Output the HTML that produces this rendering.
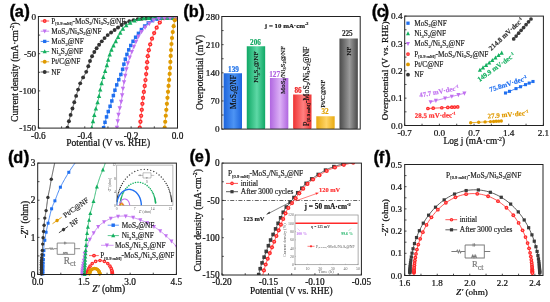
<!DOCTYPE html>
<html><head><meta charset="utf-8"><style>
html,body{margin:0;padding:0;background:#fff;}
svg{display:block;will-change:transform;}
</style></head><body>
<svg width="550" height="302" viewBox="0 0 550 302">
<defs><linearGradient id="g_blue" x1="0" x2="1" y1="0" y2="0"><stop offset="0" stop-color="#1c64dc"/><stop offset="0.55" stop-color="#4d94f4"/><stop offset="1" stop-color="#1c64dc"/></linearGradient><linearGradient id="g_green" x1="0" x2="1" y1="0" y2="0"><stop offset="0" stop-color="#0fa865"/><stop offset="0.55" stop-color="#5ed8a6"/><stop offset="1" stop-color="#0fa865"/></linearGradient><linearGradient id="g_purple" x1="0" x2="1" y1="0" y2="0"><stop offset="0" stop-color="#b066e0"/><stop offset="0.55" stop-color="#dcb0f6"/><stop offset="1" stop-color="#b066e0"/></linearGradient><linearGradient id="g_red" x1="0" x2="1" y1="0" y2="0"><stop offset="0" stop-color="#ee3434"/><stop offset="0.55" stop-color="#ff8080"/><stop offset="1" stop-color="#ee3434"/></linearGradient><linearGradient id="g_orange" x1="0" x2="1" y1="0" y2="0"><stop offset="0" stop-color="#e8aa10"/><stop offset="0.55" stop-color="#ffd466"/><stop offset="1" stop-color="#e8aa10"/></linearGradient><linearGradient id="g_gray" x1="0" x2="1" y1="0" y2="0"><stop offset="0" stop-color="#4a4a4a"/><stop offset="0.55" stop-color="#9a9a9a"/><stop offset="1" stop-color="#4a4a4a"/></linearGradient></defs>
<rect width="550" height="302" fill="#fff"/>
<clipPath id="ca"><rect x="38.4" y="16.5" width="139.1" height="111.6"/></clipPath>
<g clip-path="url(#ca)">
<path d="M177.00,17.60 L176.16,17.61 L175.07,17.63 L173.78,17.65 L172.33,17.68 L170.77,17.70 L169.12,17.73 L167.45,17.76 L165.78,17.79 L164.16,17.82 L162.62,17.85 L161.23,17.87 L160.00,17.90 L158.92,17.92 L157.93,17.95 L157.01,17.97 L156.15,17.99 L155.34,18.00 L154.56,18.02 L153.81,18.05 L153.07,18.07 L152.34,18.10 L151.59,18.13 L150.81,18.16 L150.00,18.20 L149.16,18.24 L148.30,18.29 L147.43,18.33 L146.56,18.38 L145.68,18.43 L144.81,18.49 L143.95,18.55 L143.11,18.61 L142.29,18.67 L141.49,18.74 L140.73,18.82 L140.00,18.90 L139.31,18.99 L138.65,19.07 L138.02,19.17 L137.41,19.26 L136.83,19.36 L136.26,19.47 L135.71,19.58 L135.16,19.69 L134.62,19.81 L134.09,19.94 L133.55,20.07 L133.00,20.20 L132.45,20.34 L131.92,20.48 L131.38,20.62 L130.86,20.77 L130.34,20.92 L129.82,21.08 L129.31,21.25 L128.81,21.42 L128.30,21.60 L127.80,21.79 L127.30,21.99 L126.80,22.20 L126.30,22.42 L125.81,22.65 L125.33,22.89 L124.84,23.14 L124.37,23.39 L123.89,23.66 L123.41,23.93 L122.93,24.21 L122.45,24.49 L121.97,24.79 L121.49,25.09 L121.00,25.40 L120.50,25.73 L119.97,26.08 L119.43,26.45 L118.89,26.84 L118.34,27.24 L117.80,27.63 L117.27,28.02 L116.76,28.40 L116.27,28.77 L115.81,29.11 L115.38,29.42 L115.00,29.70 L114.68,29.93 L114.42,30.12 L114.20,30.27 L114.03,30.39 L113.88,30.49 L113.74,30.59 L113.59,30.70 L113.44,30.81 L113.25,30.95 L113.03,31.12 L112.75,31.33 L112.40,31.60 L111.99,31.91 L111.53,32.25 L111.03,32.61 L110.49,33.00 L109.93,33.41 L109.34,33.84 L108.75,34.29 L108.14,34.76 L107.54,35.25 L106.94,35.75 L106.36,36.27 L105.80,36.80 L105.25,37.36 L104.69,37.95 L104.12,38.58 L103.55,39.23 L102.98,39.89 L102.41,40.57 L101.85,41.25 L101.31,41.93 L100.77,42.60 L100.26,43.26 L99.77,43.89 L99.30,44.50 L98.86,45.08 L98.45,45.63 L98.05,46.16 L97.68,46.67 L97.32,47.18 L96.97,47.69 L96.63,48.20 L96.29,48.71 L95.95,49.25 L95.61,49.80 L95.26,50.39 L94.90,51.00 L94.53,51.64 L94.16,52.29 L93.79,52.95 L93.42,53.62 L93.05,54.31 L92.68,55.02 L92.31,55.74 L91.94,56.49 L91.58,57.26 L91.22,58.05 L90.86,58.86 L90.50,59.70 L90.15,60.58 L89.82,61.51 L89.49,62.47 L89.16,63.47 L88.84,64.48 L88.52,65.51 L88.19,66.55 L87.86,67.58 L87.52,68.60 L87.16,69.60 L86.79,70.57 L86.40,71.50 L85.99,72.39 L85.55,73.25 L85.10,74.07 L84.63,74.88 L84.15,75.68 L83.67,76.47 L83.18,77.27 L82.70,78.07 L82.23,78.90 L81.77,79.76 L81.32,80.66 L80.90,81.60 L80.49,82.59 L80.09,83.63 L79.70,84.70 L79.31,85.80 L78.94,86.92 L78.57,88.05 L78.21,89.19 L77.85,90.33 L77.50,91.45 L77.16,92.56 L76.83,93.65 L76.50,94.70 L76.18,95.72 L75.88,96.72 L75.58,97.70 L75.30,98.67 L75.02,99.63 L74.75,100.58 L74.48,101.53 L74.21,102.49 L73.94,103.44 L73.67,104.41 L73.39,105.40 L73.10,106.40 L72.80,107.43 L72.50,108.48 L72.18,109.56 L71.86,110.65 L71.54,111.74 L71.22,112.84 L70.91,113.92 L70.60,115.00 L70.31,116.05 L70.02,117.07 L69.75,118.06 L69.50,119.00 L69.26,119.93 L69.03,120.87 L68.80,121.82 L68.58,122.75 L68.37,123.66 L68.17,124.54 L67.99,125.37 L67.82,126.15 L67.66,126.87 L67.52,127.50 L67.40,128.05 L67.30,128.50" fill="none" stroke="#333333" stroke-width="0.8"/>
<circle cx="67.48" cy="127.72" r="1.95" fill="#333333"/>
<circle cx="68.93" cy="121.28" r="1.95" fill="#333333"/>
<circle cx="70.63" cy="114.91" r="1.95" fill="#333333"/>
<circle cx="72.47" cy="108.57" r="1.95" fill="#333333"/>
<circle cx="74.29" cy="102.22" r="1.95" fill="#333333"/>
<circle cx="76.13" cy="95.89" r="1.95" fill="#333333"/>
<circle cx="78.08" cy="89.58" r="1.95" fill="#333333"/>
<circle cx="80.21" cy="83.33" r="1.95" fill="#333333"/>
<circle cx="83.10" cy="77.41" r="1.95" fill="#333333"/>
<circle cx="86.24" cy="71.84" r="1.95" fill="#333333"/>
<circle cx="88.29" cy="66.23" r="1.95" fill="#333333"/>
<circle cx="90.01" cy="60.96" r="1.95" fill="#333333"/>
<circle cx="92.06" cy="56.25" r="1.95" fill="#333333"/>
<circle cx="94.31" cy="52.03" r="1.95" fill="#333333"/>
<circle cx="96.61" cy="48.22" r="1.95" fill="#333333"/>
<circle cx="99.12" cy="44.73" r="1.95" fill="#333333"/>
<circle cx="101.78" cy="41.35" r="1.95" fill="#333333"/>
<circle cx="104.57" cy="38.08" r="1.95" fill="#333333"/>
<circle cx="107.69" cy="35.12" r="1.95" fill="#333333"/>
<circle cx="111.12" cy="32.54" r="1.95" fill="#333333"/>
<circle cx="114.59" cy="29.99" r="1.95" fill="#333333"/>
<circle cx="118.05" cy="27.45" r="1.95" fill="#333333"/>
<circle cx="121.60" cy="25.02" r="1.95" fill="#333333"/>
<circle cx="125.33" cy="22.89" r="1.95" fill="#333333"/>
<circle cx="129.30" cy="21.25" r="1.95" fill="#333333"/>
<circle cx="133.44" cy="20.09" r="1.95" fill="#333333"/>
<circle cx="137.65" cy="19.22" r="1.95" fill="#333333"/>
<circle cx="141.92" cy="18.71" r="1.95" fill="#333333"/>
<circle cx="146.21" cy="18.40" r="1.95" fill="#333333"/>
<circle cx="150.51" cy="18.18" r="1.95" fill="#333333"/>
<circle cx="154.80" cy="18.02" r="1.95" fill="#333333"/>
<circle cx="159.10" cy="17.92" r="1.95" fill="#333333"/>
<circle cx="163.40" cy="17.83" r="1.95" fill="#333333"/>
<circle cx="167.70" cy="17.76" r="1.95" fill="#333333"/>
<circle cx="172.00" cy="17.68" r="1.95" fill="#333333"/>
<circle cx="176.30" cy="17.61" r="1.95" fill="#333333"/>
<path d="M177.00,17.60 L176.56,17.61 L176.00,17.62 L175.35,17.63 L174.61,17.64 L173.82,17.65 L172.97,17.66 L172.11,17.68 L171.23,17.70 L170.36,17.72 L169.52,17.74 L168.73,17.77 L168.00,17.80 L167.32,17.83 L166.67,17.85 L166.03,17.87 L165.41,17.90 L164.79,17.92 L164.19,17.95 L163.58,17.99 L162.97,18.04 L162.35,18.10 L161.72,18.18 L161.07,18.28 L160.40,18.40 L159.70,18.54 L158.98,18.69 L158.23,18.86 L157.47,19.04 L156.70,19.24 L155.93,19.45 L155.16,19.67 L154.41,19.91 L153.67,20.16 L152.95,20.43 L152.26,20.71 L151.60,21.00 L150.98,21.30 L150.38,21.62 L149.82,21.94 L149.27,22.27 L148.73,22.62 L148.21,22.98 L147.70,23.36 L147.19,23.76 L146.68,24.19 L146.16,24.63 L145.64,25.10 L145.10,25.60 L144.55,26.13 L143.99,26.70 L143.43,27.30 L142.86,27.93 L142.30,28.58 L141.73,29.24 L141.17,29.92 L140.61,30.60 L140.07,31.29 L139.53,31.97 L139.01,32.64 L138.50,33.30 L138.00,33.95 L137.52,34.60 L137.04,35.24 L136.57,35.89 L136.11,36.54 L135.66,37.19 L135.22,37.84 L134.78,38.50 L134.35,39.16 L133.93,39.83 L133.51,40.51 L133.10,41.20 L132.69,41.90 L132.29,42.60 L131.90,43.32 L131.51,44.04 L131.14,44.77 L130.76,45.50 L130.40,46.23 L130.04,46.97 L129.69,47.71 L129.35,48.44 L129.02,49.17 L128.70,49.90 L128.39,50.63 L128.09,51.36 L127.79,52.10 L127.51,52.84 L127.23,53.58 L126.96,54.31 L126.70,55.05 L126.45,55.77 L126.20,56.50 L125.96,57.21 L125.73,57.91 L125.50,58.60 L125.28,59.28 L125.07,59.96 L124.86,60.64 L124.67,61.31 L124.48,61.98 L124.29,62.64 L124.12,63.28 L123.94,63.92 L123.78,64.54 L123.61,65.14 L123.46,65.73 L123.30,66.30 L123.16,66.81 L123.06,67.25 L122.98,67.64 L122.91,67.99 L122.85,68.32 L122.79,68.66 L122.71,69.03 L122.61,69.45 L122.47,69.93 L122.30,70.51 L122.08,71.19 L121.80,72.00 L121.45,72.95 L121.04,74.03 L120.58,75.21 L120.07,76.48 L119.53,77.81 L118.98,79.20 L118.41,80.62 L117.84,82.04 L117.29,83.47 L116.75,84.86 L116.25,86.21 L115.80,87.50 L115.38,88.75 L114.99,89.99 L114.61,91.23 L114.24,92.46 L113.89,93.68 L113.55,94.90 L113.21,96.11 L112.88,97.31 L112.54,98.50 L112.20,99.68 L111.86,100.84 L111.50,102.00 L111.13,103.15 L110.76,104.30 L110.37,105.44 L109.99,106.58 L109.60,107.70 L109.21,108.82 L108.83,109.92 L108.46,111.00 L108.10,112.06 L107.75,113.10 L107.41,114.11 L107.10,115.10 L106.80,116.07 L106.50,117.05 L106.22,118.02 L105.94,118.97 L105.67,119.91 L105.42,120.82 L105.18,121.69 L104.95,122.53 L104.74,123.31 L104.54,124.04 L104.36,124.70 L104.20,125.30 L104.06,125.82 L103.95,126.28 L103.85,126.67 L103.78,127.00 L103.72,127.29 L103.67,127.54 L103.63,127.75 L103.60,127.93 L103.57,128.09 L103.55,128.23 L103.53,128.37 L103.50,128.50" fill="none" stroke="#1f6ff0" stroke-width="0.8"/>
<rect x="101.89" y="125.96" width="3.50" height="3.50" fill="#1f6ff0"/>
<rect x="103.26" y="120.54" width="3.50" height="3.50" fill="#1f6ff0"/>
<rect x="104.80" y="115.15" width="3.50" height="3.50" fill="#1f6ff0"/>
<rect x="106.51" y="109.82" width="3.50" height="3.50" fill="#1f6ff0"/>
<rect x="108.34" y="104.53" width="3.50" height="3.50" fill="#1f6ff0"/>
<rect x="110.07" y="99.20" width="3.50" height="3.50" fill="#1f6ff0"/>
<rect x="111.61" y="93.82" width="3.50" height="3.50" fill="#1f6ff0"/>
<rect x="113.18" y="88.44" width="3.50" height="3.50" fill="#1f6ff0"/>
<rect x="114.99" y="83.14" width="3.50" height="3.50" fill="#1f6ff0"/>
<rect x="117.03" y="77.93" width="3.50" height="3.50" fill="#1f6ff0"/>
<rect x="119.11" y="72.74" width="3.50" height="3.50" fill="#1f6ff0"/>
<rect x="120.88" y="67.58" width="3.50" height="3.50" fill="#1f6ff0"/>
<rect x="122.13" y="62.42" width="3.50" height="3.50" fill="#1f6ff0"/>
<rect x="123.56" y="57.44" width="3.50" height="3.50" fill="#1f6ff0"/>
<rect x="125.18" y="52.66" width="3.50" height="3.50" fill="#1f6ff0"/>
<rect x="126.98" y="48.09" width="3.50" height="3.50" fill="#1f6ff0"/>
<rect x="129.02" y="43.74" width="3.50" height="3.50" fill="#1f6ff0"/>
<rect x="131.31" y="39.53" width="3.50" height="3.50" fill="#1f6ff0"/>
<rect x="133.88" y="35.48" width="3.50" height="3.50" fill="#1f6ff0"/>
<rect x="136.71" y="31.60" width="3.50" height="3.50" fill="#1f6ff0"/>
<rect x="139.69" y="27.84" width="3.50" height="3.50" fill="#1f6ff0"/>
<rect x="142.91" y="24.28" width="3.50" height="3.50" fill="#1f6ff0"/>
<rect x="146.56" y="21.17" width="3.50" height="3.50" fill="#1f6ff0"/>
<rect x="150.75" y="18.86" width="3.50" height="3.50" fill="#1f6ff0"/>
<rect x="155.32" y="17.40" width="3.50" height="3.50" fill="#1f6ff0"/>
<rect x="160.02" y="16.42" width="3.50" height="3.50" fill="#1f6ff0"/>
<rect x="164.81" y="16.11" width="3.50" height="3.50" fill="#1f6ff0"/>
<rect x="169.60" y="15.94" width="3.50" height="3.50" fill="#1f6ff0"/>
<rect x="174.40" y="15.86" width="3.50" height="3.50" fill="#1f6ff0"/>
<path d="M177.00,17.30 L176.66,17.30 L176.22,17.31 L175.70,17.31 L175.13,17.31 L174.50,17.31 L173.84,17.32 L173.16,17.32 L172.47,17.33 L171.80,17.34 L171.16,17.36 L170.55,17.38 L170.00,17.40 L169.49,17.42 L168.98,17.44 L168.48,17.45 L168.00,17.46 L167.52,17.47 L167.06,17.49 L166.61,17.52 L166.17,17.56 L165.75,17.62 L165.35,17.69 L164.96,17.78 L164.60,17.90 L164.26,18.04 L163.95,18.19 L163.67,18.36 L163.40,18.55 L163.16,18.75 L162.92,18.96 L162.69,19.19 L162.46,19.43 L162.24,19.68 L162.00,19.94 L161.76,20.22 L161.50,20.50 L161.23,20.79 L160.96,21.09 L160.69,21.40 L160.41,21.72 L160.14,22.05 L159.86,22.40 L159.59,22.76 L159.31,23.13 L159.03,23.52 L158.75,23.93 L158.48,24.36 L158.20,24.80 L157.92,25.27 L157.64,25.78 L157.35,26.32 L157.06,26.87 L156.77,27.45 L156.48,28.03 L156.20,28.62 L155.92,29.20 L155.65,29.78 L155.39,30.34 L155.14,30.88 L154.90,31.40 L154.68,31.89 L154.47,32.36 L154.27,32.81 L154.09,33.24 L153.91,33.67 L153.73,34.10 L153.56,34.53 L153.39,34.96 L153.22,35.39 L153.05,35.84 L152.88,36.31 L152.70,36.80 L152.52,37.30 L152.33,37.81 L152.15,38.32 L151.96,38.83 L151.78,39.36 L151.59,39.89 L151.41,40.44 L151.23,41.00 L151.04,41.57 L150.86,42.16 L150.68,42.77 L150.50,43.40 L150.32,44.05 L150.13,44.73 L149.94,45.43 L149.76,46.14 L149.57,46.88 L149.38,47.62 L149.20,48.37 L149.02,49.12 L148.85,49.88 L148.69,50.63 L148.54,51.37 L148.40,52.10 L148.27,52.81 L148.16,53.51 L148.05,54.20 L147.96,54.88 L147.87,55.56 L147.78,56.24 L147.70,56.94 L147.62,57.66 L147.54,58.39 L147.47,59.16 L147.38,59.96 L147.30,60.80 L147.21,61.69 L147.13,62.61 L147.05,63.57 L146.97,64.57 L146.90,65.58 L146.82,66.61 L146.74,67.65 L146.66,68.70 L146.58,69.74 L146.49,70.78 L146.40,71.80 L146.30,72.80 L146.20,73.78 L146.10,74.73 L145.99,75.68 L145.89,76.61 L145.78,77.55 L145.66,78.49 L145.55,79.43 L145.43,80.40 L145.30,81.38 L145.17,82.39 L145.04,83.42 L144.90,84.50 L144.75,85.62 L144.60,86.77 L144.43,87.95 L144.26,89.16 L144.08,90.38 L143.91,91.62 L143.73,92.88 L143.55,94.13 L143.38,95.39 L143.21,96.64 L143.05,97.88 L142.90,99.10 L142.76,100.32 L142.62,101.55 L142.49,102.80 L142.36,104.04 L142.23,105.29 L142.11,106.53 L141.99,107.76 L141.87,108.98 L141.76,110.17 L141.64,111.35 L141.52,112.49 L141.40,113.60 L141.28,114.70 L141.15,115.81 L141.02,116.92 L140.89,118.02 L140.75,119.10 L140.62,120.16 L140.50,121.17 L140.38,122.13 L140.27,123.04 L140.17,123.87 L140.08,124.63 L140.00,125.30 L139.94,125.87 L139.88,126.36 L139.84,126.77 L139.81,127.11 L139.78,127.40 L139.76,127.63 L139.75,127.82 L139.74,127.99 L139.73,128.12 L139.72,128.25 L139.71,128.37 L139.70,128.50" fill="none" stroke="#ff2a2a" stroke-width="0.8"/>
<circle cx="139.76" cy="127.70" r="2.15" fill="#ff2a2a"/><circle cx="139.76" cy="127.70" r="0.69" fill="#ffb0b0"/>
<circle cx="140.43" cy="121.74" r="2.15" fill="#ff2a2a"/><circle cx="140.43" cy="121.74" r="0.69" fill="#ffb0b0"/>
<circle cx="141.15" cy="115.78" r="2.15" fill="#ff2a2a"/><circle cx="141.15" cy="115.78" r="0.69" fill="#ffb0b0"/>
<circle cx="141.79" cy="109.82" r="2.15" fill="#ff2a2a"/><circle cx="141.79" cy="109.82" r="0.69" fill="#ffb0b0"/>
<circle cx="142.38" cy="103.85" r="2.15" fill="#ff2a2a"/><circle cx="142.38" cy="103.85" r="0.69" fill="#ffb0b0"/>
<circle cx="143.05" cy="97.88" r="2.15" fill="#ff2a2a"/><circle cx="143.05" cy="97.88" r="0.69" fill="#ffb0b0"/>
<circle cx="143.86" cy="91.94" r="2.15" fill="#ff2a2a"/><circle cx="143.86" cy="91.94" r="0.69" fill="#ffb0b0"/>
<circle cx="144.70" cy="86.00" r="2.15" fill="#ff2a2a"/><circle cx="144.70" cy="86.00" r="0.69" fill="#ffb0b0"/>
<circle cx="145.47" cy="80.05" r="2.15" fill="#ff2a2a"/><circle cx="145.47" cy="80.05" r="0.69" fill="#ffb0b0"/>
<circle cx="146.17" cy="74.09" r="2.15" fill="#ff2a2a"/><circle cx="146.17" cy="74.09" r="0.69" fill="#ffb0b0"/>
<circle cx="146.70" cy="68.11" r="2.15" fill="#ff2a2a"/><circle cx="146.70" cy="68.11" r="0.69" fill="#ffb0b0"/>
<circle cx="147.17" cy="62.13" r="2.15" fill="#ff2a2a"/><circle cx="147.17" cy="62.13" r="0.69" fill="#ffb0b0"/>
<circle cx="147.79" cy="56.16" r="2.15" fill="#ff2a2a"/><circle cx="147.79" cy="56.16" r="0.69" fill="#ffb0b0"/>
<circle cx="148.77" cy="50.25" r="2.15" fill="#ff2a2a"/><circle cx="148.77" cy="50.25" r="0.69" fill="#ffb0b0"/>
<circle cx="150.22" cy="44.42" r="2.15" fill="#ff2a2a"/><circle cx="150.22" cy="44.42" r="0.69" fill="#ffb0b0"/>
<circle cx="152.01" cy="38.70" r="2.15" fill="#ff2a2a"/><circle cx="152.01" cy="38.70" r="0.69" fill="#ffb0b0"/>
<circle cx="154.15" cy="33.10" r="2.15" fill="#ff2a2a"/><circle cx="154.15" cy="33.10" r="0.69" fill="#ffb0b0"/>
<circle cx="156.67" cy="27.65" r="2.15" fill="#ff2a2a"/><circle cx="156.67" cy="27.65" r="0.69" fill="#ffb0b0"/>
<circle cx="159.77" cy="22.53" r="2.15" fill="#ff2a2a"/><circle cx="159.77" cy="22.53" r="0.69" fill="#ffb0b0"/>
<circle cx="163.91" cy="18.22" r="2.15" fill="#ff2a2a"/><circle cx="163.91" cy="18.22" r="0.69" fill="#ffb0b0"/>
<circle cx="169.79" cy="17.41" r="2.15" fill="#ff2a2a"/><circle cx="169.79" cy="17.41" r="0.69" fill="#ffb0b0"/>
<circle cx="175.79" cy="17.31" r="2.15" fill="#ff2a2a"/><circle cx="175.79" cy="17.31" r="0.69" fill="#ffb0b0"/>
<path d="M177.00,17.90 L176.42,17.90 L175.68,17.90 L174.82,17.90 L173.85,17.90 L172.80,17.89 L171.69,17.89 L170.54,17.89 L169.37,17.89 L168.21,17.89 L167.08,17.89 L166.00,17.90 L165.00,17.90 L164.04,17.90 L163.09,17.91 L162.13,17.91 L161.19,17.92 L160.24,17.92 L159.31,17.93 L158.39,17.94 L157.48,17.95 L156.59,17.96 L155.71,17.97 L154.84,17.98 L154.00,18.00 L153.17,18.02 L152.35,18.03 L151.55,18.04 L150.76,18.06 L149.98,18.08 L149.21,18.09 L148.46,18.12 L147.73,18.14 L147.02,18.17 L146.33,18.21 L145.65,18.25 L145.00,18.30 L144.38,18.35 L143.79,18.41 L143.22,18.47 L142.68,18.53 L142.16,18.59 L141.65,18.66 L141.15,18.74 L140.65,18.83 L140.15,18.93 L139.65,19.04 L139.13,19.16 L138.60,19.30 L138.06,19.45 L137.51,19.61 L136.96,19.78 L136.41,19.96 L135.86,20.15 L135.31,20.35 L134.75,20.56 L134.20,20.79 L133.65,21.02 L133.10,21.27 L132.55,21.53 L132.00,21.80 L131.45,22.09 L130.89,22.39 L130.32,22.70 L129.75,23.03 L129.18,23.37 L128.61,23.72 L128.05,24.08 L127.51,24.45 L126.98,24.83 L126.46,25.21 L125.97,25.60 L125.50,26.00 L125.06,26.40 L124.64,26.81 L124.24,27.23 L123.85,27.65 L123.48,28.08 L123.13,28.52 L122.78,28.98 L122.44,29.44 L122.10,29.91 L121.77,30.39 L121.44,30.89 L121.10,31.40 L120.77,31.92 L120.46,32.45 L120.16,32.98 L119.86,33.53 L119.57,34.09 L119.29,34.66 L119.00,35.24 L118.70,35.84 L118.40,36.45 L118.08,37.08 L117.75,37.73 L117.40,38.40 L117.02,39.10 L116.62,39.82 L116.20,40.57 L115.77,41.35 L115.32,42.14 L114.88,42.94 L114.43,43.74 L113.99,44.55 L113.56,45.36 L113.15,46.15 L112.76,46.94 L112.40,47.70 L112.06,48.45 L111.74,49.20 L111.43,49.94 L111.13,50.67 L110.85,51.41 L110.58,52.14 L110.31,52.87 L110.06,53.59 L109.81,54.32 L109.57,55.04 L109.33,55.77 L109.10,56.50 L108.88,57.24 L108.67,57.98 L108.47,58.74 L108.27,59.50 L108.09,60.25 L107.91,61.01 L107.74,61.75 L107.57,62.48 L107.40,63.20 L107.24,63.89 L107.07,64.56 L106.90,65.20 L106.74,65.79 L106.59,66.31 L106.45,66.79 L106.31,67.23 L106.18,67.66 L106.04,68.08 L105.90,68.52 L105.76,68.99 L105.59,69.51 L105.42,70.09 L105.22,70.75 L105.00,71.50 L104.75,72.34 L104.48,73.26 L104.18,74.24 L103.87,75.28 L103.55,76.36 L103.21,77.48 L102.88,78.63 L102.54,79.80 L102.21,80.98 L101.89,82.16 L101.59,83.34 L101.30,84.50 L101.03,85.66 L100.78,86.84 L100.54,88.04 L100.31,89.25 L100.08,90.47 L99.86,91.71 L99.63,92.94 L99.40,94.18 L99.17,95.42 L98.93,96.65 L98.67,97.88 L98.40,99.10 L98.11,100.32 L97.80,101.54 L97.49,102.76 L97.16,103.99 L96.82,105.22 L96.48,106.44 L96.14,107.66 L95.81,108.87 L95.49,110.08 L95.17,111.27 L94.88,112.44 L94.60,113.60 L94.33,114.78 L94.07,116.00 L93.81,117.24 L93.56,118.49 L93.32,119.73 L93.09,120.94 L92.87,122.11 L92.66,123.22 L92.47,124.25 L92.29,125.19 L92.14,126.01 L92.00,126.70 L91.89,127.25 L91.80,127.67 L91.74,127.99 L91.69,128.20 L91.66,128.34 L91.64,128.42 L91.63,128.45 L91.62,128.45 L91.62,128.44 L91.62,128.43 L91.61,128.45 L91.60,128.50" fill="none" stroke="#14b060" stroke-width="0.8"/>
<path d="M91.78,125.24 L93.99,129.65 L89.58,129.65 Z" fill="#14b060"/>
<path d="M93.01,118.85 L95.21,123.26 L90.80,123.26 Z" fill="#14b060"/>
<path d="M94.29,112.48 L96.49,116.89 L92.08,116.89 Z" fill="#14b060"/>
<path d="M95.86,106.18 L98.07,110.59 L93.66,110.59 Z" fill="#14b060"/>
<path d="M97.57,99.91 L99.78,104.32 L95.37,104.32 Z" fill="#14b060"/>
<path d="M99.04,93.57 L101.24,97.98 L96.83,97.98 Z" fill="#14b060"/>
<path d="M100.22,87.18 L102.43,91.59 L98.02,91.59 Z" fill="#14b060"/>
<path d="M101.58,80.83 L103.79,85.24 L99.38,85.24 Z" fill="#14b060"/>
<path d="M103.33,74.57 L105.53,78.98 L101.12,78.98 Z" fill="#14b060"/>
<path d="M105.14,68.50 L107.35,72.91 L102.94,72.91 Z" fill="#14b060"/>
<path d="M106.88,62.76 L109.08,67.17 L104.67,67.17 Z" fill="#14b060"/>
<path d="M108.21,57.26 L110.41,61.67 L106.00,61.67 Z" fill="#14b060"/>
<path d="M109.70,52.12 L111.91,56.53 L107.50,56.53 Z" fill="#14b060"/>
<path d="M111.45,47.37 L113.66,51.78 L109.25,51.78 Z" fill="#14b060"/>
<path d="M113.47,43.01 L115.67,47.42 L111.26,47.42 Z" fill="#14b060"/>
<path d="M115.78,38.81 L117.98,43.22 L113.57,43.22 Z" fill="#14b060"/>
<path d="M118.07,34.59 L120.27,39.00 L115.86,39.00 Z" fill="#14b060"/>
<path d="M120.24,30.31 L122.45,34.72 L118.04,34.72 Z" fill="#14b060"/>
<path d="M122.89,26.31 L125.09,30.72 L120.68,30.72 Z" fill="#14b060"/>
<path d="M126.23,22.88 L128.43,27.29 L124.02,27.29 Z" fill="#14b060"/>
<path d="M130.23,20.23 L132.43,24.64 L128.02,24.64 Z" fill="#14b060"/>
<path d="M134.54,18.13 L136.74,22.54 L132.33,22.54 Z" fill="#14b060"/>
<path d="M139.10,16.65 L141.30,21.06 L136.89,21.06 Z" fill="#14b060"/>
<path d="M143.83,15.88 L146.04,20.29 L141.63,20.29 Z" fill="#14b060"/>
<path d="M148.62,15.59 L150.83,20.00 L146.42,20.00 Z" fill="#14b060"/>
<path d="M153.42,15.49 L155.63,19.90 L151.22,19.90 Z" fill="#14b060"/>
<path d="M158.22,15.42 L160.43,19.83 L156.02,19.83 Z" fill="#14b060"/>
<path d="M163.02,15.39 L165.23,19.80 L160.82,19.80 Z" fill="#14b060"/>
<path d="M167.82,15.37 L170.03,19.78 L165.62,19.78 Z" fill="#14b060"/>
<path d="M172.62,15.37 L174.83,19.78 L170.42,19.78 Z" fill="#14b060"/>
<path d="M177.00,17.70 L176.87,17.70 L176.74,17.71 L176.60,17.72 L176.44,17.73 L176.27,17.73 L176.06,17.74 L175.83,17.75 L175.56,17.76 L175.24,17.77 L174.88,17.78 L174.47,17.79 L174.00,17.80 L173.45,17.81 L172.80,17.81 L172.08,17.82 L171.30,17.83 L170.47,17.83 L169.62,17.84 L168.77,17.84 L167.93,17.85 L167.11,17.86 L166.34,17.87 L165.63,17.88 L165.00,17.90 L164.44,17.92 L163.93,17.93 L163.46,17.94 L163.03,17.96 L162.62,17.98 L162.24,17.99 L161.87,18.02 L161.50,18.04 L161.14,18.07 L160.78,18.11 L160.40,18.15 L160.00,18.20 L159.59,18.25 L159.17,18.31 L158.76,18.36 L158.34,18.42 L157.93,18.49 L157.51,18.56 L157.10,18.63 L156.70,18.72 L156.31,18.82 L155.93,18.93 L155.56,19.06 L155.20,19.20 L154.87,19.35 L154.56,19.50 L154.28,19.66 L154.02,19.83 L153.76,20.01 L153.51,20.21 L153.24,20.42 L152.97,20.64 L152.68,20.89 L152.35,21.17 L152.00,21.47 L151.60,21.80 L151.16,22.16 L150.67,22.55 L150.16,22.97 L149.61,23.42 L149.05,23.88 L148.47,24.37 L147.88,24.87 L147.30,25.38 L146.72,25.90 L146.16,26.43 L145.62,26.97 L145.10,27.50 L144.60,28.04 L144.11,28.58 L143.63,29.14 L143.15,29.70 L142.68,30.27 L142.21,30.86 L141.76,31.45 L141.31,32.06 L140.87,32.67 L140.44,33.30 L140.01,33.94 L139.60,34.60 L139.20,35.27 L138.82,35.94 L138.44,36.63 L138.08,37.33 L137.73,38.04 L137.38,38.76 L137.04,39.50 L136.70,40.25 L136.35,41.01 L136.01,41.79 L135.66,42.59 L135.30,43.40 L134.93,44.24 L134.56,45.11 L134.18,46.00 L133.80,46.92 L133.42,47.85 L133.04,48.79 L132.66,49.73 L132.29,50.67 L131.93,51.60 L131.57,52.52 L131.23,53.42 L130.90,54.30 L130.58,55.16 L130.27,56.01 L129.96,56.85 L129.66,57.69 L129.37,58.52 L129.09,59.34 L128.81,60.15 L128.55,60.96 L128.29,61.75 L128.05,62.54 L127.82,63.33 L127.60,64.10 L127.40,64.84 L127.22,65.54 L127.07,66.21 L126.92,66.86 L126.79,67.50 L126.66,68.14 L126.54,68.81 L126.41,69.50 L126.28,70.23 L126.13,71.02 L125.98,71.87 L125.80,72.80 L125.60,73.82 L125.39,74.94 L125.16,76.13 L124.92,77.37 L124.68,78.66 L124.43,79.97 L124.19,81.29 L123.94,82.61 L123.71,83.90 L123.49,85.16 L123.29,86.36 L123.10,87.50 L122.94,88.57 L122.80,89.58 L122.67,90.55 L122.56,91.49 L122.46,92.41 L122.36,93.31 L122.26,94.22 L122.16,95.13 L122.05,96.07 L121.92,97.03 L121.77,98.04 L121.60,99.10 L121.40,100.22 L121.18,101.38 L120.94,102.59 L120.68,103.82 L120.41,105.08 L120.14,106.34 L119.87,107.61 L119.61,108.87 L119.35,110.10 L119.11,111.31 L118.89,112.48 L118.70,113.60 L118.53,114.70 L118.37,115.81 L118.22,116.92 L118.09,118.02 L117.96,119.10 L117.85,120.16 L117.74,121.17 L117.64,122.13 L117.55,123.04 L117.46,123.87 L117.38,124.63 L117.30,125.30 L117.23,125.87 L117.16,126.36 L117.10,126.77 L117.05,127.11 L117.00,127.40 L116.96,127.63 L116.93,127.82 L116.90,127.99 L116.87,128.12 L116.84,128.25 L116.82,128.37 L116.80,128.50" fill="none" stroke="#c070f0" stroke-width="0.8"/>
<path d="M116.95,130.23 L119.15,125.82 L114.74,125.82 Z" fill="#c070f0"/>
<path d="M117.74,123.68 L119.95,119.27 L115.54,119.27 Z" fill="#c070f0"/>
<path d="M118.54,117.13 L120.75,112.72 L116.34,112.72 Z" fill="#c070f0"/>
<path d="M119.76,110.65 L121.97,106.24 L117.56,106.24 Z" fill="#c070f0"/>
<path d="M121.12,104.19 L123.33,99.78 L118.92,99.78 Z" fill="#c070f0"/>
<path d="M122.16,97.67 L124.36,93.26 L119.95,93.26 Z" fill="#c070f0"/>
<path d="M122.93,91.12 L125.14,86.71 L120.73,86.71 Z" fill="#c070f0"/>
<path d="M124.04,84.61 L126.24,80.20 L121.83,80.20 Z" fill="#c070f0"/>
<path d="M125.26,78.13 L127.46,73.72 L123.05,73.72 Z" fill="#c070f0"/>
<path d="M126.45,71.78 L128.66,67.37 L124.25,67.37 Z" fill="#c070f0"/>
<path d="M127.86,65.71 L130.07,61.30 L125.66,61.30 Z" fill="#c070f0"/>
<path d="M129.75,59.97 L131.95,55.56 L127.54,55.56 Z" fill="#c070f0"/>
<path d="M131.78,54.49 L133.99,50.08 L129.58,50.08 Z" fill="#c070f0"/>
<path d="M133.89,49.23 L136.09,44.82 L131.68,44.82 Z" fill="#c070f0"/>
<path d="M136.11,44.09 L138.31,39.68 L133.90,39.68 Z" fill="#c070f0"/>
<path d="M138.51,39.03 L140.71,34.62 L136.30,34.62 Z" fill="#c070f0"/>
<path d="M141.51,34.31 L143.71,29.90 L139.30,29.90 Z" fill="#c070f0"/>
<path d="M145.10,30.02 L147.31,25.61 L142.90,25.61 Z" fill="#c070f0"/>
<path d="M149.24,26.25 L151.44,21.84 L147.03,21.84 Z" fill="#c070f0"/>
<path d="M153.56,22.69 L155.77,18.28 L151.36,18.28 Z" fill="#c070f0"/>
<path d="M158.78,20.88 L160.99,16.47 L156.58,16.47 Z" fill="#c070f0"/>
<path d="M164.36,20.44 L166.57,16.03 L162.16,16.03 Z" fill="#c070f0"/>
<path d="M169.96,20.36 L172.17,15.95 L167.76,15.95 Z" fill="#c070f0"/>
<path d="M175.56,20.28 L177.77,15.87 L173.36,15.87 Z" fill="#c070f0"/>
<path d="M177.00,16.90 L176.92,16.93 L176.82,16.95 L176.69,16.97 L176.55,17.00 L176.40,17.03 L176.24,17.07 L176.08,17.12 L175.93,17.18 L175.77,17.25 L175.63,17.35 L175.51,17.46 L175.40,17.60 L175.31,17.74 L175.24,17.88 L175.19,18.01 L175.14,18.15 L175.10,18.30 L175.06,18.48 L175.02,18.69 L174.97,18.94 L174.92,19.24 L174.86,19.59 L174.79,20.01 L174.70,20.50 L174.59,21.07 L174.47,21.72 L174.34,22.44 L174.19,23.21 L174.04,24.04 L173.89,24.90 L173.73,25.79 L173.57,26.70 L173.42,27.61 L173.27,28.52 L173.13,29.42 L173.00,30.30 L172.88,31.16 L172.76,32.03 L172.64,32.90 L172.52,33.77 L172.41,34.65 L172.30,35.54 L172.19,36.45 L172.09,37.36 L171.99,38.29 L171.89,39.24 L171.79,40.21 L171.70,41.20 L171.61,42.20 L171.53,43.20 L171.45,44.21 L171.37,45.23 L171.30,46.27 L171.23,47.33 L171.16,48.40 L171.09,49.51 L171.02,50.65 L170.95,51.83 L170.88,53.04 L170.80,54.30 L170.72,55.61 L170.65,56.98 L170.57,58.39 L170.50,59.85 L170.42,61.33 L170.34,62.84 L170.26,64.37 L170.18,65.91 L170.09,67.45 L170.00,68.98 L169.90,70.50 L169.80,72.00 L169.69,73.49 L169.57,74.98 L169.44,76.48 L169.31,77.98 L169.18,79.48 L169.04,80.98 L168.90,82.48 L168.76,83.99 L168.62,85.49 L168.48,87.00 L168.34,88.50 L168.20,90.00 L168.06,91.49 L167.92,92.97 L167.79,94.44 L167.65,95.91 L167.51,97.37 L167.37,98.84 L167.23,100.32 L167.09,101.81 L166.94,103.32 L166.80,104.86 L166.65,106.41 L166.50,108.00 L166.34,109.69 L166.17,111.51 L165.99,113.43 L165.81,115.41 L165.63,117.40 L165.44,119.38 L165.27,121.29 L165.10,123.09 L164.95,124.76 L164.81,126.24 L164.69,127.50 L164.60,128.50" fill="none" stroke="#e09a00" stroke-width="0.8"/>
<circle cx="164.67" cy="127.70" r="2.10" fill="#e09a00"/>
<circle cx="165.23" cy="121.73" r="2.10" fill="#e09a00"/>
<circle cx="165.78" cy="115.75" r="2.10" fill="#e09a00"/>
<circle cx="166.33" cy="109.78" r="2.10" fill="#e09a00"/>
<circle cx="166.90" cy="103.81" r="2.10" fill="#e09a00"/>
<circle cx="167.47" cy="97.83" r="2.10" fill="#e09a00"/>
<circle cx="168.03" cy="91.86" r="2.10" fill="#e09a00"/>
<circle cx="168.58" cy="85.89" r="2.10" fill="#e09a00"/>
<circle cx="169.14" cy="79.91" r="2.10" fill="#e09a00"/>
<circle cx="169.65" cy="73.93" r="2.10" fill="#e09a00"/>
<circle cx="170.06" cy="67.95" r="2.10" fill="#e09a00"/>
<circle cx="170.39" cy="61.96" r="2.10" fill="#e09a00"/>
<circle cx="170.70" cy="55.96" r="2.10" fill="#e09a00"/>
<circle cx="171.06" cy="49.98" r="2.10" fill="#e09a00"/>
<circle cx="171.47" cy="43.99" r="2.10" fill="#e09a00"/>
<circle cx="172.02" cy="38.02" r="2.10" fill="#e09a00"/>
<circle cx="172.75" cy="32.06" r="2.10" fill="#e09a00"/>
<circle cx="173.67" cy="26.13" r="2.10" fill="#e09a00"/>
<circle cx="174.75" cy="20.23" r="2.10" fill="#e09a00"/>
</g>
<line x1="40.7" y1="21.00" x2="49.2" y2="21.00" stroke="#ff2a2a" stroke-width="0.8"/>
<circle cx="44.70" cy="21.00" r="1.95" fill="#ff2a2a"/><circle cx="44.70" cy="21.00" r="0.62" fill="#ffb0b0"/>
<text x="51.20" y="23.60" font-size="7.3" text-anchor="start" style="font-family:'Liberation Serif',serif" fill="#222" font-weight="normal" stroke="#222" stroke-width="0.178">P<tspan dy="1.61" font-size="4.53">[0.9 mM]</tspan><tspan dy="-1.61">-MoS</tspan><tspan dy="1.61" font-size="4.53">2</tspan><tspan dy="-1.61">/Ni</tspan><tspan dy="1.61" font-size="4.53">3</tspan><tspan dy="-1.61">S</tspan><tspan dy="1.61" font-size="4.53">2</tspan><tspan dy="-1.61">@NF</tspan></text>
<line x1="40.7" y1="31.20" x2="49.2" y2="31.20" stroke="#c070f0" stroke-width="0.8"/>
<path d="M44.70,33.54 L46.75,29.45 L42.65,29.45 Z" fill="#c070f0"/>
<text x="51.20" y="33.80" font-size="7.3" text-anchor="start" style="font-family:'Liberation Serif',serif" fill="#222" font-weight="normal" stroke="#222" stroke-width="0.178">MoS<tspan dy="1.61" font-size="4.53">2</tspan><tspan dy="-1.61">/Ni</tspan><tspan dy="1.61" font-size="4.53">3</tspan><tspan dy="-1.61">S</tspan><tspan dy="1.61" font-size="4.53">2</tspan><tspan dy="-1.61">@NF</tspan></text>
<line x1="40.7" y1="41.40" x2="49.2" y2="41.40" stroke="#1f6ff0" stroke-width="0.8"/>
<rect x="43.05" y="39.75" width="3.30" height="3.30" fill="#1f6ff0"/>
<text x="51.20" y="44.00" font-size="7.3" text-anchor="start" style="font-family:'Liberation Serif',serif" fill="#222" font-weight="normal" stroke="#222" stroke-width="0.178">MoS<tspan dy="1.61" font-size="4.53">2</tspan><tspan dy="-1.61">@NF</tspan></text>
<line x1="40.7" y1="51.60" x2="49.2" y2="51.60" stroke="#14b060" stroke-width="0.8"/>
<path d="M44.70,49.26 L46.75,53.35 L42.65,53.35 Z" fill="#14b060"/>
<text x="51.20" y="54.20" font-size="7.3" text-anchor="start" style="font-family:'Liberation Serif',serif" fill="#222" font-weight="normal" stroke="#222" stroke-width="0.178">Ni<tspan dy="1.61" font-size="4.53">3</tspan><tspan dy="-1.61">S</tspan><tspan dy="1.61" font-size="4.53">2</tspan><tspan dy="-1.61">@NF</tspan></text>
<line x1="40.7" y1="61.80" x2="49.2" y2="61.80" stroke="#e09a00" stroke-width="0.8"/>
<circle cx="44.70" cy="61.80" r="1.95" fill="#e09a00"/>
<text x="51.20" y="64.40" font-size="7.3" text-anchor="start" style="font-family:'Liberation Serif',serif" fill="#222" font-weight="normal" stroke="#222" stroke-width="0.178">Pt/C@NF</text>
<line x1="40.7" y1="72.00" x2="49.2" y2="72.00" stroke="#333333" stroke-width="0.8"/>
<circle cx="44.70" cy="72.00" r="1.95" fill="#333333"/>
<text x="51.20" y="74.60" font-size="7.3" text-anchor="start" style="font-family:'Liberation Serif',serif" fill="#222" font-weight="normal" stroke="#222" stroke-width="0.178">NF</text>
<rect x="38.40" y="16.50" width="139.10" height="111.60" fill="none" stroke="#222" stroke-width="1.0"/>
<line x1="38.40" y1="128.10" x2="38.40" y2="126.30" stroke="#222" stroke-width="0.8"/><line x1="61.58" y1="128.10" x2="61.58" y2="126.30" stroke="#222" stroke-width="0.8"/><line x1="84.77" y1="128.10" x2="84.77" y2="126.30" stroke="#222" stroke-width="0.8"/><line x1="107.95" y1="128.10" x2="107.95" y2="126.30" stroke="#222" stroke-width="0.8"/><line x1="131.13" y1="128.10" x2="131.13" y2="126.30" stroke="#222" stroke-width="0.8"/><line x1="154.32" y1="128.10" x2="154.32" y2="126.30" stroke="#222" stroke-width="0.8"/><line x1="177.50" y1="128.10" x2="177.50" y2="126.30" stroke="#222" stroke-width="0.8"/>
<line x1="38.40" y1="16.50" x2="40.20" y2="16.50" stroke="#222" stroke-width="0.8"/><line x1="38.40" y1="35.10" x2="40.20" y2="35.10" stroke="#222" stroke-width="0.8"/><line x1="38.40" y1="53.70" x2="40.20" y2="53.70" stroke="#222" stroke-width="0.8"/><line x1="38.40" y1="72.30" x2="40.20" y2="72.30" stroke="#222" stroke-width="0.8"/><line x1="38.40" y1="90.90" x2="40.20" y2="90.90" stroke="#222" stroke-width="0.8"/><line x1="38.40" y1="109.50" x2="40.20" y2="109.50" stroke="#222" stroke-width="0.8"/><line x1="38.40" y1="128.10" x2="40.20" y2="128.10" stroke="#222" stroke-width="0.8"/>
<text x="38.40" y="138.70" font-size="9.3" text-anchor="middle" style="font-family:'Liberation Serif',serif" fill="#111" font-weight="normal" stroke="#111" stroke-width="0.227">-0.6</text>
<text x="84.77" y="138.70" font-size="9.3" text-anchor="middle" style="font-family:'Liberation Serif',serif" fill="#111" font-weight="normal" stroke="#111" stroke-width="0.227">-0.4</text>
<text x="131.13" y="138.70" font-size="9.3" text-anchor="middle" style="font-family:'Liberation Serif',serif" fill="#111" font-weight="normal" stroke="#111" stroke-width="0.227">-0.2</text>
<text x="177.50" y="138.70" font-size="9.3" text-anchor="middle" style="font-family:'Liberation Serif',serif" fill="#111" font-weight="normal" stroke="#111" stroke-width="0.227">0.0</text>
<text x="36.20" y="19.70" font-size="9.2" text-anchor="end" style="font-family:'Liberation Serif',serif" fill="#111" font-weight="normal" stroke="#111" stroke-width="0.225">0</text>
<text x="36.20" y="56.90" font-size="9.2" text-anchor="end" style="font-family:'Liberation Serif',serif" fill="#111" font-weight="normal" stroke="#111" stroke-width="0.225">-50</text>
<text x="36.20" y="94.10" font-size="9.2" text-anchor="end" style="font-family:'Liberation Serif',serif" fill="#111" font-weight="normal" stroke="#111" stroke-width="0.225">-100</text>
<text x="36.20" y="131.30" font-size="9.2" text-anchor="end" style="font-family:'Liberation Serif',serif" fill="#111" font-weight="normal" stroke="#111" stroke-width="0.225">-150</text>
<text x="108.20" y="146.00" font-size="9.5" text-anchor="middle" style="font-family:'Liberation Serif',serif" fill="#111" font-weight="normal" stroke="#111" stroke-width="0.232">Potential (V vs. RHE)</text>
<text x="18.00" y="72.00" font-size="9.3" text-anchor="middle" style="font-family:'Liberation Serif',serif" fill="#111" font-weight="normal" transform="rotate(-90 18.00 72.00)" stroke="#111" stroke-width="0.227">Current density (mA·cm<tspan dy="-3.53" font-size="5.77">-2</tspan><tspan dy="3.53">)</tspan></text>
<g style="font-family:'Liberation Sans',sans-serif" font-weight="bold" fill="#000" stroke="#000" stroke-width="0.2"><text x="9.40" y="16.90" font-size="17.8" stroke="#111" stroke-width="0.435">(</text><text x="14.85" y="16.90" font-size="16.3" stroke="#111" stroke-width="0.398">a</text><text x="24.01" y="16.90" font-size="17.8" stroke="#111" stroke-width="0.435">)</text></g>
<path d="M223.60,73.20 H242.00 V127.90 Q242.00,129.10 240.50,129.10 H225.10 Q223.60,129.10 223.60,127.90 Z" fill="url(#g_blue)"/>
<text x="233.50" y="72.30" font-size="7.2" text-anchor="middle" style="font-family:'Liberation Serif',serif" fill="#1a6ee8" font-weight="bold" stroke="#1a6ee8" stroke-width="0.176">139</text>
<path d="M246.77,46.26 H265.17 V127.90 Q265.17,129.10 263.67,129.10 H248.27 Q246.77,129.10 246.77,127.90 Z" fill="url(#g_green)"/>
<text x="255.50" y="44.60" font-size="7.2" text-anchor="middle" style="font-family:'Liberation Serif',serif" fill="#12a862" font-weight="bold" stroke="#12a862" stroke-width="0.176">206</text>
<path d="M269.94,78.03 H288.34 V127.90 Q288.34,129.10 286.84,129.10 H271.44 Q269.94,129.10 269.94,127.90 Z" fill="url(#g_purple)"/>
<text x="274.60" y="76.60" font-size="7.2" text-anchor="middle" style="font-family:'Liberation Serif',serif" fill="#b060e0" font-weight="bold" stroke="#b060e0" stroke-width="0.176">127</text>
<path d="M293.11,94.52 H311.51 V127.90 Q311.51,129.10 310.01,129.10 H294.61 Q293.11,129.10 293.11,127.90 Z" fill="url(#g_red)"/>
<text x="298.00" y="92.80" font-size="7.2" text-anchor="middle" style="font-family:'Liberation Serif',serif" fill="#ee2020" font-weight="bold" stroke="#ee2020" stroke-width="0.176">86</text>
<path d="M316.28,116.23 H334.68 V127.90 Q334.68,129.10 333.18,129.10 H317.78 Q316.28,129.10 316.28,127.90 Z" fill="url(#g_orange)"/>
<text x="325.00" y="113.80" font-size="7.2" text-anchor="middle" style="font-family:'Liberation Serif',serif" fill="#e0a000" font-weight="bold" stroke="#e0a000" stroke-width="0.176">32</text>
<path d="M339.45,38.62 H357.85 V127.90 Q357.85,129.10 356.35,129.10 H340.95 Q339.45,129.10 339.45,127.90 Z" fill="url(#g_gray)"/>
<text x="347.30" y="36.20" font-size="7.2" text-anchor="middle" style="font-family:'Liberation Serif',serif" fill="#333" font-weight="bold" stroke="#333" stroke-width="0.176">225</text>
<rect x="221.80" y="16.50" width="138.40" height="112.60" fill="none" stroke="#222" stroke-width="1.0"/>
<line x1="221.80" y1="129.10" x2="223.60" y2="129.10" stroke="#222" stroke-width="0.8"/><line x1="221.80" y1="115.02" x2="223.60" y2="115.02" stroke="#222" stroke-width="0.8"/><line x1="221.80" y1="100.95" x2="223.60" y2="100.95" stroke="#222" stroke-width="0.8"/><line x1="221.80" y1="86.88" x2="223.60" y2="86.88" stroke="#222" stroke-width="0.8"/><line x1="221.80" y1="72.80" x2="223.60" y2="72.80" stroke="#222" stroke-width="0.8"/><line x1="221.80" y1="58.72" x2="223.60" y2="58.72" stroke="#222" stroke-width="0.8"/><line x1="221.80" y1="44.65" x2="223.60" y2="44.65" stroke="#222" stroke-width="0.8"/><line x1="221.80" y1="30.58" x2="223.60" y2="30.58" stroke="#222" stroke-width="0.8"/><line x1="221.80" y1="16.50" x2="223.60" y2="16.50" stroke="#222" stroke-width="0.8"/>
<text x="219.60" y="132.30" font-size="9.2" text-anchor="end" style="font-family:'Liberation Serif',serif" fill="#111" font-weight="normal" stroke="#111" stroke-width="0.225">0</text>
<text x="219.60" y="104.15" font-size="9.2" text-anchor="end" style="font-family:'Liberation Serif',serif" fill="#111" font-weight="normal" stroke="#111" stroke-width="0.225">70</text>
<text x="219.60" y="76.00" font-size="9.2" text-anchor="end" style="font-family:'Liberation Serif',serif" fill="#111" font-weight="normal" stroke="#111" stroke-width="0.225">140</text>
<text x="219.60" y="47.85" font-size="9.2" text-anchor="end" style="font-family:'Liberation Serif',serif" fill="#111" font-weight="normal" stroke="#111" stroke-width="0.225">210</text>
<text x="219.60" y="19.70" font-size="9.2" text-anchor="end" style="font-family:'Liberation Serif',serif" fill="#111" font-weight="normal" stroke="#111" stroke-width="0.225">280</text>
<text x="203.20" y="72.40" font-size="9.5" text-anchor="middle" style="font-family:'Liberation Serif',serif" fill="#111" font-weight="normal" transform="rotate(-90 203.20 72.40)" stroke="#111" stroke-width="0.232">Overpotential (mV)</text>
<g style="font-family:'Liberation Sans',sans-serif" font-weight="bold" fill="#000" stroke="#000" stroke-width="0.2"><text x="183.30" y="17.20" font-size="17.8" stroke="#111" stroke-width="0.435">(</text><text x="188.75" y="17.20" font-size="16.3" stroke="#111" stroke-width="0.398">b</text><text x="198.81" y="17.20" font-size="17.8" stroke="#111" stroke-width="0.435">)</text></g>
<text x="286.70" y="27.80" font-size="6.9" text-anchor="middle" style="font-family:'Liberation Serif',serif" fill="#111" font-weight="bold" stroke="#111" stroke-width="0.169">j = 10 mA·cm<tspan dy="-2.62" font-size="4.28">-2</tspan></text>
<text transform="translate(235.60,108.90) rotate(-90)" font-size="7.6" style="font-family:'Liberation Serif',serif" fill="#111" stroke="#111" stroke-width="0.186">MoS<tspan dy="1.67" font-size="4.71">2</tspan><tspan dy="-1.67">@NF</tspan></text>
<text transform="translate(258.00,82.70) rotate(-90)" font-size="7.1" style="font-family:'Liberation Serif',serif" fill="#111" stroke="#111" stroke-width="0.174">Ni<tspan dy="1.56" font-size="4.40">3</tspan><tspan dy="-1.56">S</tspan><tspan dy="1.56" font-size="4.40">2</tspan><tspan dy="-1.56">@NF</tspan></text>
<text transform="translate(284.80,93.90) rotate(-90)" font-size="6.9" style="font-family:'Liberation Serif',serif" fill="#111" stroke="#111" stroke-width="0.169">MoS<tspan dy="1.52" font-size="4.28">2</tspan><tspan dy="-1.52">/Ni</tspan><tspan dy="1.52" font-size="4.28">3</tspan><tspan dy="-1.52">S</tspan><tspan dy="1.52" font-size="4.28">2</tspan><tspan dy="-1.52">@NF</tspan></text>
<text transform="translate(308.50,125.90) rotate(-90)" font-size="7.8" style="font-family:'Liberation Serif',serif" fill="#111" stroke="#111" stroke-width="0.191">P<tspan dy="1.72" font-size="4.84">[0.9 mM]</tspan><tspan dy="-1.72">-MoS</tspan><tspan dy="1.72" font-size="4.84">2</tspan><tspan dy="-1.72">/Ni</tspan><tspan dy="1.72" font-size="4.84">3</tspan><tspan dy="-1.72">S</tspan><tspan dy="1.72" font-size="4.84">2</tspan><tspan dy="-1.72">@NF</tspan></text>
<text transform="translate(325.30,107.80) rotate(-90)" font-size="7.0" style="font-family:'Liberation Serif',serif" fill="#111" stroke="#111" stroke-width="0.171">Pt/C@NF</text>
<text transform="translate(351.00,55.80) rotate(-90)" font-size="7.0" style="font-family:'Liberation Serif',serif" fill="#111" stroke="#111" stroke-width="0.171">NF</text>
<rect x="404.70" y="16.10" width="138.70" height="109.40" fill="none" stroke="#222" stroke-width="1.0"/>
<line x1="404.70" y1="125.50" x2="404.70" y2="123.70" stroke="#222" stroke-width="0.8"/><line x1="422.04" y1="125.50" x2="422.04" y2="123.70" stroke="#222" stroke-width="0.8"/><line x1="439.38" y1="125.50" x2="439.38" y2="123.70" stroke="#222" stroke-width="0.8"/><line x1="456.71" y1="125.50" x2="456.71" y2="123.70" stroke="#222" stroke-width="0.8"/><line x1="474.05" y1="125.50" x2="474.05" y2="123.70" stroke="#222" stroke-width="0.8"/><line x1="491.39" y1="125.50" x2="491.39" y2="123.70" stroke="#222" stroke-width="0.8"/><line x1="508.72" y1="125.50" x2="508.72" y2="123.70" stroke="#222" stroke-width="0.8"/><line x1="526.06" y1="125.50" x2="526.06" y2="123.70" stroke="#222" stroke-width="0.8"/><line x1="543.40" y1="125.50" x2="543.40" y2="123.70" stroke="#222" stroke-width="0.8"/>
<line x1="404.70" y1="125.50" x2="406.50" y2="125.50" stroke="#222" stroke-width="0.8"/><line x1="404.70" y1="111.83" x2="406.50" y2="111.83" stroke="#222" stroke-width="0.8"/><line x1="404.70" y1="98.15" x2="406.50" y2="98.15" stroke="#222" stroke-width="0.8"/><line x1="404.70" y1="84.47" x2="406.50" y2="84.47" stroke="#222" stroke-width="0.8"/><line x1="404.70" y1="70.80" x2="406.50" y2="70.80" stroke="#222" stroke-width="0.8"/><line x1="404.70" y1="57.12" x2="406.50" y2="57.12" stroke="#222" stroke-width="0.8"/><line x1="404.70" y1="43.45" x2="406.50" y2="43.45" stroke="#222" stroke-width="0.8"/><line x1="404.70" y1="29.78" x2="406.50" y2="29.78" stroke="#222" stroke-width="0.8"/><line x1="404.70" y1="16.10" x2="406.50" y2="16.10" stroke="#222" stroke-width="0.8"/>
<text x="404.70" y="135.80" font-size="9.2" text-anchor="middle" style="font-family:'Liberation Serif',serif" fill="#111" font-weight="normal" stroke="#111" stroke-width="0.225">-0.7</text>
<text x="439.38" y="135.80" font-size="9.2" text-anchor="middle" style="font-family:'Liberation Serif',serif" fill="#111" font-weight="normal" stroke="#111" stroke-width="0.225">0.0</text>
<text x="474.05" y="135.80" font-size="9.2" text-anchor="middle" style="font-family:'Liberation Serif',serif" fill="#111" font-weight="normal" stroke="#111" stroke-width="0.225">0.7</text>
<text x="508.72" y="135.80" font-size="9.2" text-anchor="middle" style="font-family:'Liberation Serif',serif" fill="#111" font-weight="normal" stroke="#111" stroke-width="0.225">1.4</text>
<text x="543.40" y="135.80" font-size="9.2" text-anchor="middle" style="font-family:'Liberation Serif',serif" fill="#111" font-weight="normal" stroke="#111" stroke-width="0.225">2.1</text>
<text x="402.50" y="128.70" font-size="9.2" text-anchor="end" style="font-family:'Liberation Serif',serif" fill="#111" font-weight="normal" stroke="#111" stroke-width="0.225">0.0</text>
<text x="402.50" y="101.35" font-size="9.2" text-anchor="end" style="font-family:'Liberation Serif',serif" fill="#111" font-weight="normal" stroke="#111" stroke-width="0.225">0.1</text>
<text x="402.50" y="74.00" font-size="9.2" text-anchor="end" style="font-family:'Liberation Serif',serif" fill="#111" font-weight="normal" stroke="#111" stroke-width="0.225">0.2</text>
<text x="402.50" y="46.65" font-size="9.2" text-anchor="end" style="font-family:'Liberation Serif',serif" fill="#111" font-weight="normal" stroke="#111" stroke-width="0.225">0.3</text>
<text x="402.50" y="19.30" font-size="9.2" text-anchor="end" style="font-family:'Liberation Serif',serif" fill="#111" font-weight="normal" stroke="#111" stroke-width="0.225">0.4</text>
<text x="474.30" y="144.20" font-size="9.3" text-anchor="middle" style="font-family:'Liberation Serif',serif" fill="#111" font-weight="normal" stroke="#111" stroke-width="0.227">Log j (mA·cm<tspan dy="-3.53" font-size="5.77">-2</tspan><tspan dy="3.53">)</tspan></text>
<text x="387.80" y="70.90" font-size="9.2" text-anchor="middle" style="font-family:'Liberation Serif',serif" fill="#111" font-weight="normal" transform="rotate(-90 387.80 70.90)" stroke="#111" stroke-width="0.225">Overpotential (V vs. RHE)</text>
<g style="font-family:'Liberation Sans',sans-serif" font-weight="bold" fill="#000" stroke="#000" stroke-width="0.2"><text x="371.70" y="17.20" font-size="17.8" stroke="#111" stroke-width="0.435">(</text><text x="376.70" y="17.20" font-size="16.3" stroke="#111" stroke-width="0.398">c</text><text x="383.16" y="17.20" font-size="17.8" stroke="#111" stroke-width="0.435">)</text></g>
<rect x="406.35" y="21.55" width="3.30" height="3.30" fill="#1f6ff0"/>
<text x="414.20" y="25.80" font-size="7.3" text-anchor="start" style="font-family:'Liberation Serif',serif" fill="#222" font-weight="normal" stroke="#222" stroke-width="0.178">MoS<tspan dy="1.61" font-size="4.53">2</tspan><tspan dy="-1.61">@NF</tspan></text>
<path d="M408.00,31.22 L410.00,35.21 L406.00,35.21 Z" fill="#14b060"/>
<text x="414.20" y="36.10" font-size="7.3" text-anchor="start" style="font-family:'Liberation Serif',serif" fill="#222" font-weight="normal" stroke="#222" stroke-width="0.178">Ni<tspan dy="1.61" font-size="4.53">3</tspan><tspan dy="-1.61">S</tspan><tspan dy="1.61" font-size="4.53">2</tspan><tspan dy="-1.61">@NF</tspan></text>
<path d="M408.00,46.08 L410.00,42.09 L406.00,42.09 Z" fill="#c070f0"/>
<text x="414.20" y="46.40" font-size="7.3" text-anchor="start" style="font-family:'Liberation Serif',serif" fill="#222" font-weight="normal" stroke="#222" stroke-width="0.178">MoS<tspan dy="1.61" font-size="4.53">2</tspan><tspan dy="-1.61">/Ni</tspan><tspan dy="1.61" font-size="4.53">3</tspan><tspan dy="-1.61">S</tspan><tspan dy="1.61" font-size="4.53">2</tspan><tspan dy="-1.61">@NF</tspan></text>
<circle cx="408.00" cy="54.10" r="1.90" fill="#ff2a2a"/><circle cx="408.00" cy="54.10" r="0.61" fill="#ffb0b0"/>
<text x="414.20" y="56.70" font-size="7.3" text-anchor="start" style="font-family:'Liberation Serif',serif" fill="#222" font-weight="normal" stroke="#222" stroke-width="0.178">P<tspan dy="1.61" font-size="4.53">[0.9 mM]</tspan><tspan dy="-1.61">-MoS</tspan><tspan dy="1.61" font-size="4.53">2</tspan><tspan dy="-1.61">/Ni</tspan><tspan dy="1.61" font-size="4.53">3</tspan><tspan dy="-1.61">S</tspan><tspan dy="1.61" font-size="4.53">2</tspan><tspan dy="-1.61">@NF</tspan></text>
<circle cx="408.00" cy="64.40" r="1.90" fill="#e09a00"/>
<text x="414.20" y="67.00" font-size="7.3" text-anchor="start" style="font-family:'Liberation Serif',serif" fill="#222" font-weight="normal" stroke="#222" stroke-width="0.178">Pt/C@NF</text>
<circle cx="408.00" cy="74.70" r="1.90" fill="#333333"/>
<text x="414.20" y="77.30" font-size="7.3" text-anchor="start" style="font-family:'Liberation Serif',serif" fill="#222" font-weight="normal" stroke="#222" stroke-width="0.178">NF</text>
<line x1="513.70" y1="38.90" x2="531.00" y2="19.00" stroke="#3a3a3a" stroke-width="0.8"/><circle cx="513.70" cy="38.90" r="1.85" fill="#3a3a3a"/><circle cx="516.17" cy="36.06" r="1.85" fill="#3a3a3a"/><circle cx="518.64" cy="33.21" r="1.85" fill="#3a3a3a"/><circle cx="521.11" cy="30.37" r="1.85" fill="#3a3a3a"/><circle cx="523.59" cy="27.53" r="1.85" fill="#3a3a3a"/><circle cx="526.06" cy="24.69" r="1.85" fill="#3a3a3a"/><circle cx="528.53" cy="21.84" r="1.85" fill="#3a3a3a"/><circle cx="531.00" cy="19.00" r="1.85" fill="#3a3a3a"/>
<line x1="479.90" y1="70.10" x2="501.70" y2="52.90" stroke="#14b060" stroke-width="0.8"/><path d="M479.90,67.76 L481.95,71.85 L477.85,71.85 Z" fill="#14b060"/><path d="M483.01,65.30 L485.06,69.40 L480.97,69.40 Z" fill="#14b060"/><path d="M486.13,62.85 L488.18,66.94 L484.08,66.94 Z" fill="#14b060"/><path d="M489.24,60.39 L491.29,64.48 L487.20,64.48 Z" fill="#14b060"/><path d="M492.36,57.93 L494.40,62.03 L490.31,62.03 Z" fill="#14b060"/><path d="M495.47,55.47 L497.52,59.57 L493.42,59.57 Z" fill="#14b060"/><path d="M498.59,53.02 L500.63,57.11 L496.54,57.11 Z" fill="#14b060"/><path d="M501.70,50.56 L503.75,54.66 L499.65,54.66 Z" fill="#14b060"/>
<line x1="505.50" y1="93.00" x2="533.00" y2="81.50" stroke="#1f6ff0" stroke-width="0.8"/><rect x="503.95" y="91.45" width="3.10" height="3.10" fill="#1f6ff0"/><rect x="507.95" y="89.78" width="3.10" height="3.10" fill="#1f6ff0"/><rect x="514.45" y="87.06" width="3.10" height="3.10" fill="#1f6ff0"/><rect x="518.95" y="85.18" width="3.10" height="3.10" fill="#1f6ff0"/><rect x="523.95" y="83.09" width="3.10" height="3.10" fill="#1f6ff0"/><rect x="527.65" y="81.54" width="3.10" height="3.10" fill="#1f6ff0"/><rect x="531.45" y="79.95" width="3.10" height="3.10" fill="#1f6ff0"/>
<line x1="430.60" y1="101.90" x2="464.40" y2="93.30" stroke="#c070f0" stroke-width="0.8"/><path d="M430.60,104.24 L432.65,100.15 L428.55,100.15 Z" fill="#c070f0"/><path d="M435.90,102.89 L437.95,98.80 L433.85,98.80 Z" fill="#c070f0"/><path d="M445.10,100.55 L447.15,96.46 L443.05,96.46 Z" fill="#c070f0"/><path d="M451.80,98.85 L453.85,94.75 L449.75,94.75 Z" fill="#c070f0"/><path d="M458.40,97.17 L460.45,93.07 L456.35,93.07 Z" fill="#c070f0"/><path d="M464.40,95.64 L466.45,91.55 L462.35,91.55 Z" fill="#c070f0"/>
<line x1="427.90" y1="108.50" x2="457.70" y2="106.90" stroke="#ff2a2a" stroke-width="0.8"/><circle cx="427.90" cy="108.50" r="1.85" fill="#ff2a2a"/><circle cx="427.90" cy="108.50" r="0.59" fill="#ffb0b0"/><circle cx="433.20" cy="108.22" r="1.85" fill="#ff2a2a"/><circle cx="433.20" cy="108.22" r="0.59" fill="#ffb0b0"/><circle cx="441.80" cy="107.75" r="1.85" fill="#ff2a2a"/><circle cx="441.80" cy="107.75" r="0.59" fill="#ffb0b0"/><circle cx="447.80" cy="107.43" r="1.85" fill="#ff2a2a"/><circle cx="447.80" cy="107.43" r="0.59" fill="#ffb0b0"/><circle cx="451.80" cy="107.22" r="1.85" fill="#ff2a2a"/><circle cx="451.80" cy="107.22" r="0.59" fill="#ffb0b0"/><circle cx="454.60" cy="107.07" r="1.85" fill="#ff2a2a"/><circle cx="454.60" cy="107.07" r="0.59" fill="#ffb0b0"/><circle cx="457.70" cy="106.90" r="1.85" fill="#ff2a2a"/><circle cx="457.70" cy="106.90" r="0.59" fill="#ffb0b0"/>
<line x1="470.70" y1="122.70" x2="501.30" y2="121.00" stroke="#e09a00" stroke-width="0.8"/><circle cx="470.70" cy="122.70" r="1.70" fill="#e09a00"/><circle cx="478.70" cy="122.26" r="1.70" fill="#e09a00"/><circle cx="485.10" cy="121.90" r="1.70" fill="#e09a00"/><circle cx="490.50" cy="121.60" r="1.70" fill="#e09a00"/><circle cx="493.60" cy="121.43" r="1.70" fill="#e09a00"/><circle cx="496.20" cy="121.28" r="1.70" fill="#e09a00"/><circle cx="498.70" cy="121.14" r="1.70" fill="#e09a00"/><circle cx="501.30" cy="121.00" r="1.70" fill="#e09a00"/>
<text transform="translate(491.30,51.00) rotate(-43)" font-size="7.0" style="font-family:'Liberation Serif',serif" font-weight="bold" fill="#333" stroke="#333" stroke-width="0.171">214.8 mV·dec<tspan dy="-2.66" font-size="4.34">-1</tspan></text>
<text transform="translate(479.40,82.00) rotate(-35.5)" font-size="7.0" style="font-family:'Liberation Serif',serif" font-weight="bold" fill="#14b060" stroke="#14b060" stroke-width="0.171">149.9 mV·dec<tspan dy="-2.66" font-size="4.34">-1</tspan></text>
<text transform="translate(490.30,92.00) rotate(-17.7)" font-size="7.0" style="font-family:'Liberation Serif',serif" font-weight="bold" fill="#1f6ff0" stroke="#1f6ff0" stroke-width="0.171">75.8mV·dec<tspan dy="-2.66" font-size="4.34">-1</tspan></text>
<text transform="translate(419.80,97.60) rotate(-11)" font-size="6.9" style="font-family:'Liberation Serif',serif" font-weight="bold" fill="#c070f0" stroke="#c070f0" stroke-width="0.169">47.7 mV·dec<tspan dy="-2.62" font-size="4.28">-1</tspan></text>
<text transform="translate(414.80,118.00) rotate(-0.8)" font-size="7.0" style="font-family:'Liberation Serif',serif" font-weight="bold" fill="#ff2a2a" stroke="#ff2a2a" stroke-width="0.171">28.5 mV·dec<tspan dy="-2.66" font-size="4.34">-1</tspan></text>
<text transform="translate(487.80,118.50) rotate(-4.7)" font-size="7.0" style="font-family:'Liberation Serif',serif" font-weight="bold" fill="#e09a00" stroke="#e09a00" stroke-width="0.171">27.9 mV·dec<tspan dy="-2.66" font-size="4.34">-1</tspan></text>
<clipPath id="cd"><rect x="37.7" y="163.1" width="138.7" height="113.9"/></clipPath>
<g clip-path="url(#cd)">
<path d="M82.00,275.50 L82.03,275.14 L82.06,274.69 L82.10,274.16 L82.14,273.57 L82.19,272.93 L82.24,272.25 L82.29,271.54 L82.35,270.81 L82.41,270.09 L82.47,269.37 L82.53,268.67 L82.60,268.00 L82.67,267.35 L82.74,266.71 L82.81,266.06 L82.88,265.41 L82.95,264.75 L83.03,264.09 L83.11,263.43 L83.20,262.76 L83.29,262.08 L83.39,261.40 L83.49,260.70 L83.60,260.00 L83.71,259.28 L83.83,258.54 L83.95,257.78 L84.08,257.01 L84.21,256.24 L84.35,255.46 L84.49,254.69 L84.64,253.92 L84.80,253.16 L84.96,252.42 L85.12,251.70 L85.30,251.00 L85.48,250.32 L85.68,249.65 L85.88,248.99 L86.10,248.34 L86.31,247.70 L86.54,247.08 L86.76,246.46 L86.99,245.86 L87.22,245.27 L87.45,244.70 L87.68,244.14 L87.90,243.60 L88.12,243.08 L88.33,242.60 L88.54,242.14 L88.74,241.70 L88.95,241.27 L89.16,240.86 L89.38,240.44 L89.60,240.02 L89.83,239.59 L90.07,239.15 L90.33,238.69 L90.60,238.20 L90.88,237.69 L91.18,237.16 L91.48,236.61 L91.79,236.05 L92.11,235.49 L92.44,234.91 L92.78,234.34 L93.13,233.76 L93.49,233.18 L93.85,232.61 L94.22,232.05 L94.60,231.50 L94.99,230.95 L95.38,230.39 L95.78,229.83 L96.19,229.27 L96.61,228.72 L97.03,228.16 L97.47,227.62 L97.91,227.08 L98.37,226.56 L98.83,226.05 L99.31,225.57 L99.80,225.10 L100.31,224.65 L100.83,224.22 L101.37,223.81 L101.93,223.40 L102.50,223.01 L103.07,222.64 L103.65,222.27 L104.23,221.92 L104.80,221.57 L105.38,221.24 L105.94,220.92 L106.50,220.60 L107.05,220.29 L107.59,219.99 L108.13,219.71 L108.67,219.43 L109.21,219.16 L109.75,218.91 L110.29,218.66 L110.83,218.43 L111.37,218.20 L111.91,217.99 L112.45,217.79 L113.00,217.60 L113.55,217.42 L114.09,217.26 L114.63,217.10 L115.17,216.96 L115.72,216.83 L116.26,216.71 L116.81,216.60 L117.37,216.50 L117.94,216.41 L118.51,216.33 L119.10,216.26 L119.70,216.20 L120.32,216.15 L120.95,216.11 L121.59,216.08 L122.24,216.05 L122.90,216.04 L123.57,216.04 L124.24,216.05 L124.91,216.07 L125.59,216.11 L126.26,216.16 L126.93,216.22 L127.60,216.30 L128.26,216.40 L128.93,216.51 L129.60,216.65 L130.26,216.79 L130.93,216.95 L131.60,217.13 L132.27,217.31 L132.94,217.50 L133.60,217.69 L134.27,217.89 L134.94,218.10 L135.60,218.30 L136.26,218.51 L136.92,218.72 L137.58,218.94 L138.24,219.16 L138.90,219.39 L139.56,219.63 L140.21,219.88 L140.87,220.13 L141.53,220.38 L142.18,220.65 L142.84,220.92 L143.50,221.20 L144.16,221.49 L144.82,221.78 L145.47,222.07 L146.13,222.37 L146.79,222.68 L147.44,223.00 L148.10,223.33 L148.76,223.66 L149.42,224.00 L150.08,224.36 L150.74,224.72 L151.40,225.10 L152.06,225.49 L152.73,225.89 L153.40,226.30 L154.06,226.71 L154.73,227.14 L155.40,227.58 L156.07,228.03 L156.74,228.49 L157.40,228.95 L158.07,229.43 L158.74,229.91 L159.40,230.40 L160.07,230.90 L160.74,231.42 L161.41,231.96 L162.09,232.50 L162.76,233.05 L163.44,233.61 L164.11,234.18 L164.77,234.74 L165.42,235.31 L166.06,235.88 L166.69,236.44 L167.30,237.00 L167.90,237.56 L168.50,238.14 L169.10,238.72 L169.69,239.31 L170.27,239.91 L170.84,240.49 L171.39,241.07 L171.93,241.64 L172.46,242.19 L172.96,242.72 L173.44,243.23 L173.90,243.70 L174.34,244.16 L174.78,244.61 L175.20,245.04 L175.60,245.47 L175.99,245.88 L176.36,246.27 L176.71,246.63 L177.03,246.97 L177.32,247.28 L177.58,247.56 L177.81,247.80 L178.00,248.00" fill="none" stroke="#c070f0" stroke-width="0.8"/>
<path d="M82.00,276.58 L84.00,272.59 L80.00,272.59 Z" fill="#c070f0"/>
<path d="M82.10,274.58 L84.09,270.59 L80.10,270.59 Z" fill="#c070f0"/>
<path d="M82.30,272.58 L84.30,268.59 L80.30,268.59 Z" fill="#c070f0"/>
<path d="M82.60,270.48 L84.59,266.49 L80.60,266.49 Z" fill="#c070f0"/>
<path d="M82.90,268.28 L84.90,264.29 L80.91,264.29 Z" fill="#c070f0"/>
<path d="M83.30,265.78 L85.30,261.79 L81.30,261.79 Z" fill="#c070f0"/>
<path d="M83.80,262.78 L85.80,258.79 L81.80,258.79 Z" fill="#c070f0"/>
<path d="M84.50,259.48 L86.50,255.49 L82.50,255.49 Z" fill="#c070f0"/>
<path d="M85.40,255.48 L87.40,251.49 L83.41,251.49 Z" fill="#c070f0"/>
<path d="M84.69,255.96 L86.68,251.97 L82.69,251.97 Z" fill="#c070f0"/>
<path d="M86.79,248.67 L88.79,244.68 L84.80,244.68 Z" fill="#c070f0"/>
<path d="M89.90,241.74 L91.90,237.75 L87.91,237.75 Z" fill="#c070f0"/>
<path d="M93.68,235.15 L95.68,231.16 L91.69,231.16 Z" fill="#c070f0"/>
<path d="M98.19,229.04 L100.19,225.05 L96.20,225.05 Z" fill="#c070f0"/>
<path d="M104.08,224.29 L106.07,220.30 L102.08,220.30 Z" fill="#c070f0"/>
<path d="M110.79,220.72 L112.78,216.73 L108.79,216.73 Z" fill="#c070f0"/>
<path d="M118.08,218.67 L120.07,214.68 L116.08,214.68 Z" fill="#c070f0"/>
<path d="M125.66,218.39 L127.66,214.40 L123.67,214.40 Z" fill="#c070f0"/>
<path d="M133.11,219.83 L135.10,215.84 L131.11,215.84 Z" fill="#c070f0"/>
<path d="M140.33,222.20 L142.32,218.21 L138.33,218.21 Z" fill="#c070f0"/>
<path d="M147.30,225.21 L149.30,221.22 L145.31,221.22 Z" fill="#c070f0"/>
<path d="M153.93,228.91 L155.93,224.92 L151.94,224.92 Z" fill="#c070f0"/>
<path d="M160.16,233.26 L162.16,229.27 L158.17,229.27 Z" fill="#c070f0"/>
<path d="M166.01,238.12 L168.00,234.13 L164.01,234.13 Z" fill="#c070f0"/>
<path d="M171.45,243.42 L173.45,239.43 L169.46,239.43 Z" fill="#c070f0"/>
<path d="M176.70,248.91 L178.70,244.92 L174.71,244.92 Z" fill="#c070f0"/>
<path d="M84.60,275.50 L84.61,275.15 L84.62,274.71 L84.63,274.21 L84.64,273.65 L84.65,273.03 L84.67,272.38 L84.69,271.68 L84.70,270.96 L84.72,270.23 L84.75,269.48 L84.77,268.74 L84.80,268.00 L84.83,267.25 L84.87,266.45 L84.91,265.63 L84.95,264.78 L84.99,263.91 L85.04,263.03 L85.08,262.15 L85.13,261.28 L85.17,260.42 L85.22,259.58 L85.26,258.77 L85.30,258.00 L85.34,257.27 L85.37,256.57 L85.40,255.91 L85.43,255.26 L85.46,254.63 L85.49,254.00 L85.52,253.37 L85.56,252.74 L85.59,252.09 L85.62,251.43 L85.66,250.73 L85.70,250.00 L85.74,249.24 L85.78,248.45 L85.83,247.64 L85.87,246.81 L85.92,245.98 L85.96,245.12 L86.01,244.27 L86.06,243.41 L86.12,242.55 L86.17,241.69 L86.24,240.84 L86.30,240.00 L86.37,239.17 L86.43,238.33 L86.50,237.50 L86.57,236.67 L86.65,235.83 L86.72,235.00 L86.81,234.17 L86.89,233.33 L86.98,232.50 L87.08,231.67 L87.19,230.83 L87.30,230.00 L87.42,229.16 L87.56,228.30 L87.71,227.42 L87.86,226.54 L88.02,225.67 L88.19,224.79 L88.35,223.93 L88.51,223.09 L88.67,222.27 L88.83,221.48 L88.97,220.72 L89.10,220.00 L89.21,219.34 L89.31,218.75 L89.40,218.21 L89.47,217.71 L89.54,217.24 L89.61,216.77 L89.69,216.29 L89.77,215.80 L89.87,215.26 L89.99,214.68 L90.13,214.03 L90.30,213.30 L90.50,212.50 L90.72,211.65 L90.95,210.75 L91.21,209.82 L91.48,208.85 L91.76,207.84 L92.05,206.81 L92.34,205.76 L92.64,204.69 L92.93,203.60 L93.22,202.50 L93.50,201.40 L93.78,200.27 L94.06,199.08 L94.34,197.85 L94.62,196.59 L94.90,195.32 L95.19,194.03 L95.47,192.75 L95.76,191.49 L96.05,190.25 L96.33,189.04 L96.62,187.89 L96.90,186.80 L97.19,185.75 L97.48,184.73 L97.77,183.72 L98.06,182.74 L98.36,181.79 L98.65,180.87 L98.94,179.97 L99.23,179.11 L99.51,178.28 L99.78,177.48 L100.04,176.72 L100.30,176.00 L100.54,175.33 L100.78,174.73 L101.00,174.19 L101.22,173.69 L101.43,173.22 L101.64,172.77 L101.85,172.33 L102.06,171.89 L102.26,171.44 L102.47,170.97 L102.68,170.46 L102.90,169.90 L103.13,169.28 L103.38,168.60 L103.63,167.87 L103.89,167.11 L104.15,166.34 L104.41,165.57 L104.66,164.82 L104.90,164.11 L105.11,163.46 L105.31,162.88 L105.47,162.39 L105.60,162.00" fill="none" stroke="#14b060" stroke-width="0.8"/><path d="M84.70,271.92 L86.70,275.91 L82.70,275.91 Z" fill="#14b060"/><path d="M84.75,269.92 L86.75,273.91 L82.75,273.91 Z" fill="#14b060"/><path d="M84.80,267.92 L86.80,271.91 L82.80,271.91 Z" fill="#14b060"/><path d="M84.85,265.72 L86.84,269.71 L82.85,269.71 Z" fill="#14b060"/><path d="M84.95,263.32 L86.95,267.31 L82.95,267.31 Z" fill="#14b060"/><path d="M85.05,260.72 L87.05,264.71 L83.05,264.71 Z" fill="#14b060"/><path d="M85.20,257.72 L87.20,261.71 L83.20,261.71 Z" fill="#14b060"/><path d="M85.35,254.52 L87.34,258.51 L83.35,258.51 Z" fill="#14b060"/><path d="M85.50,251.32 L87.50,255.31 L83.50,255.31 Z" fill="#14b060"/><path d="M85.70,247.92 L87.70,251.91 L83.70,251.91 Z" fill="#14b060"/><path d="M86.00,243.12 L88.00,247.11 L84.00,247.11 Z" fill="#14b060"/><path d="M86.50,237.02 L88.50,241.01 L84.50,241.01 Z" fill="#14b060"/><path d="M87.10,230.92 L89.09,234.91 L85.10,234.91 Z" fill="#14b060"/><path d="M87.90,224.82 L89.90,228.81 L85.91,228.81 Z" fill="#14b060"/><path d="M89.10,217.72 L91.09,221.71 L87.10,221.71 Z" fill="#14b060"/><path d="M90.30,211.02 L92.30,215.01 L88.30,215.01 Z" fill="#14b060"/><path d="M93.50,199.12 L95.50,203.11 L91.50,203.11 Z" fill="#14b060"/><path d="M96.90,184.52 L98.90,188.51 L94.91,188.51 Z" fill="#14b060"/><path d="M102.90,167.62 L104.90,171.61 L100.91,171.61 Z" fill="#14b060"/>
<path d="M87.60,274.50 L87.62,273.75 L87.67,273.01 L87.76,272.27 L87.88,271.54 L88.04,270.82 L88.23,270.10 L88.45,269.40 L88.71,268.72 L89.00,268.04 L89.32,267.39 L89.67,266.76 L90.05,266.15 L90.45,265.56 L90.89,265.00 L91.35,264.47 L91.83,263.96 L92.34,263.49 L92.87,263.04 L93.42,262.63 L93.99,262.25 L94.58,261.91 L95.18,261.60 L95.79,261.33 L96.42,261.10 L97.06,260.90 L97.70,260.74 L98.35,260.62 L99.01,260.54 L99.67,260.50 L100.33,260.50 L100.99,260.54 L101.65,260.62 L102.30,260.74 L102.94,260.90 L103.58,261.10 L104.21,261.33 L104.82,261.60 L105.42,261.91 L106.01,262.25 L106.58,262.63 L107.13,263.04 L107.66,263.49 L108.17,263.96 L108.65,264.47 L109.11,265.00 L109.55,265.56 L109.95,266.15 L110.33,266.76 L110.68,267.39 L111.00,268.04 L111.29,268.72 L111.55,269.40 L111.77,270.10 L111.96,270.82 L112.12,271.54 L112.24,272.27 L112.33,273.01 L112.38,273.75 L112.40,274.50" fill="none" stroke="#ff2a2a" stroke-width="0.8"/>
<circle cx="112.37" cy="273.48" r="1.80" fill="#ff2a2a"/><circle cx="112.37" cy="273.48" r="0.58" fill="#ffb0b0"/>
<circle cx="112.33" cy="273.03" r="1.80" fill="#ff2a2a"/><circle cx="112.33" cy="273.03" r="0.58" fill="#ffb0b0"/>
<circle cx="112.26" cy="272.39" r="1.80" fill="#ff2a2a"/><circle cx="112.26" cy="272.39" r="0.58" fill="#ffb0b0"/>
<circle cx="112.11" cy="271.47" r="1.80" fill="#ff2a2a"/><circle cx="112.11" cy="271.47" r="0.58" fill="#ffb0b0"/>
<circle cx="111.79" cy="270.17" r="1.80" fill="#ff2a2a"/><circle cx="111.79" cy="270.17" r="0.58" fill="#ffb0b0"/>
<circle cx="111.16" cy="268.41" r="1.80" fill="#ff2a2a"/><circle cx="111.16" cy="268.41" r="0.58" fill="#ffb0b0"/>
<circle cx="109.95" cy="266.14" r="1.80" fill="#ff2a2a"/><circle cx="109.95" cy="266.14" r="0.58" fill="#ffb0b0"/>
<circle cx="107.78" cy="263.60" r="1.80" fill="#ff2a2a"/><circle cx="107.78" cy="263.60" r="0.58" fill="#ffb0b0"/>
<circle cx="104.37" cy="261.40" r="1.80" fill="#ff2a2a"/><circle cx="104.37" cy="261.40" r="0.58" fill="#ffb0b0"/>
<circle cx="100.00" cy="260.50" r="1.80" fill="#ff2a2a"/><circle cx="100.00" cy="260.50" r="0.58" fill="#ffb0b0"/>
<circle cx="95.63" cy="261.40" r="1.80" fill="#ff2a2a"/><circle cx="95.63" cy="261.40" r="0.58" fill="#ffb0b0"/>
<circle cx="92.22" cy="263.60" r="1.80" fill="#ff2a2a"/><circle cx="92.22" cy="263.60" r="0.58" fill="#ffb0b0"/>
<circle cx="90.05" cy="266.14" r="1.80" fill="#ff2a2a"/><circle cx="90.05" cy="266.14" r="0.58" fill="#ffb0b0"/>
<circle cx="88.84" cy="268.41" r="1.80" fill="#ff2a2a"/><circle cx="88.84" cy="268.41" r="0.58" fill="#ffb0b0"/>
<circle cx="88.21" cy="270.17" r="1.80" fill="#ff2a2a"/><circle cx="88.21" cy="270.17" r="0.58" fill="#ffb0b0"/>
<circle cx="87.89" cy="271.47" r="1.80" fill="#ff2a2a"/><circle cx="87.89" cy="271.47" r="0.58" fill="#ffb0b0"/>
<circle cx="87.74" cy="272.39" r="1.80" fill="#ff2a2a"/><circle cx="87.74" cy="272.39" r="0.58" fill="#ffb0b0"/>
<circle cx="87.67" cy="273.03" r="1.80" fill="#ff2a2a"/><circle cx="87.67" cy="273.03" r="0.58" fill="#ffb0b0"/>
<circle cx="87.63" cy="273.48" r="1.80" fill="#ff2a2a"/><circle cx="87.63" cy="273.48" r="0.58" fill="#ffb0b0"/>
<circle cx="99.77" cy="273.84" r="1.70" fill="#e09a00"/>
<circle cx="99.75" cy="273.69" r="1.70" fill="#e09a00"/>
<circle cx="99.73" cy="273.51" r="1.70" fill="#e09a00"/>
<circle cx="99.69" cy="273.28" r="1.70" fill="#e09a00"/>
<circle cx="99.64" cy="273.01" r="1.70" fill="#e09a00"/>
<circle cx="99.56" cy="272.68" r="1.70" fill="#e09a00"/>
<circle cx="99.44" cy="272.29" r="1.70" fill="#e09a00"/>
<circle cx="99.26" cy="271.83" r="1.70" fill="#e09a00"/>
<circle cx="99.00" cy="271.30" r="1.70" fill="#e09a00"/>
<circle cx="98.64" cy="270.72" r="1.70" fill="#e09a00"/>
<circle cx="98.14" cy="270.10" r="1.70" fill="#e09a00"/>
<circle cx="97.47" cy="269.50" r="1.70" fill="#e09a00"/>
<circle cx="96.64" cy="268.98" r="1.70" fill="#e09a00"/>
<circle cx="95.66" cy="268.63" r="1.70" fill="#e09a00"/>
<circle cx="94.60" cy="268.50" r="1.70" fill="#e09a00"/>
<circle cx="93.54" cy="268.63" r="1.70" fill="#e09a00"/>
<circle cx="92.56" cy="268.98" r="1.70" fill="#e09a00"/>
<circle cx="91.73" cy="269.50" r="1.70" fill="#e09a00"/>
<circle cx="91.06" cy="270.10" r="1.70" fill="#e09a00"/>
<circle cx="90.56" cy="270.72" r="1.70" fill="#e09a00"/>
<circle cx="90.20" cy="271.30" r="1.70" fill="#e09a00"/>
<circle cx="89.94" cy="271.83" r="1.70" fill="#e09a00"/>
<circle cx="89.76" cy="272.29" r="1.70" fill="#e09a00"/>
<circle cx="89.64" cy="272.68" r="1.70" fill="#e09a00"/>
<circle cx="89.56" cy="273.01" r="1.70" fill="#e09a00"/>
<circle cx="89.51" cy="273.28" r="1.70" fill="#e09a00"/>
<circle cx="89.47" cy="273.51" r="1.70" fill="#e09a00"/>
<circle cx="89.45" cy="273.69" r="1.70" fill="#e09a00"/>
<circle cx="89.43" cy="273.84" r="1.70" fill="#e09a00"/>
<path d="M42.90,275.50 L42.91,275.01 L42.92,274.41 L42.93,273.72 L42.94,272.94 L42.95,272.10 L42.97,271.19 L42.99,270.23 L43.00,269.22 L43.02,268.19 L43.05,267.13 L43.07,266.07 L43.10,265.00 L43.13,263.89 L43.16,262.70 L43.19,261.44 L43.22,260.14 L43.25,258.80 L43.29,257.45 L43.33,256.10 L43.37,254.77 L43.42,253.48 L43.47,252.25 L43.53,251.08 L43.60,250.00 L43.68,249.00 L43.76,248.06 L43.85,247.16 L43.94,246.31 L44.05,245.50 L44.15,244.72 L44.26,243.96 L44.37,243.22 L44.48,242.49 L44.59,241.76 L44.69,241.04 L44.80,240.30 L44.90,239.57 L45.00,238.87 L45.10,238.18 L45.20,237.51 L45.30,236.86 L45.40,236.21 L45.50,235.56 L45.61,234.91 L45.72,234.25 L45.84,233.58 L45.97,232.90 L46.10,232.20 L46.24,231.50 L46.38,230.81 L46.52,230.14 L46.66,229.47 L46.81,228.79 L46.96,228.09 L47.12,227.38 L47.30,226.63 L47.48,225.85 L47.67,225.02 L47.88,224.14 L48.10,223.20 L48.34,222.17 L48.60,221.04 L48.87,219.83 L49.16,218.56 L49.46,217.26 L49.77,215.94 L50.08,214.62 L50.39,213.33 L50.70,212.08 L51.01,210.89 L51.31,209.79 L51.60,208.80 L51.88,207.93 L52.14,207.16 L52.39,206.48 L52.63,205.87 L52.88,205.30 L53.12,204.75 L53.38,204.21 L53.64,203.64 L53.93,203.04 L54.23,202.38 L54.55,201.64 L54.90,200.80 L55.27,199.87 L55.66,198.87 L56.05,197.82 L56.46,196.73 L56.89,195.60 L57.33,194.43 L57.79,193.24 L58.27,192.04 L58.77,190.82 L59.29,189.61 L59.83,188.40 L60.40,187.20 L61.00,185.99 L61.65,184.74 L62.33,183.46 L63.04,182.16 L63.77,180.85 L64.51,179.54 L65.25,178.25 L66.00,176.97 L66.73,175.73 L67.45,174.53 L68.14,173.38 L68.80,172.30 L69.45,171.25 L70.13,170.20 L70.81,169.16 L71.50,168.14 L72.17,167.16 L72.83,166.22 L73.45,165.33 L74.04,164.50 L74.58,163.74 L75.05,163.07 L75.47,162.48 L75.80,162.00" fill="none" stroke="#1f6ff0" stroke-width="0.8"/><rect x="41.40" y="272.30" width="3.00" height="3.00" fill="#1f6ff0"/><rect x="41.45" y="270.00" width="3.00" height="3.00" fill="#1f6ff0"/><rect x="41.50" y="267.50" width="3.00" height="3.00" fill="#1f6ff0"/><rect x="41.60" y="264.70" width="3.00" height="3.00" fill="#1f6ff0"/><rect x="41.75" y="261.50" width="3.00" height="3.00" fill="#1f6ff0"/><rect x="41.90" y="258.00" width="3.00" height="3.00" fill="#1f6ff0"/><rect x="42.10" y="253.70" width="3.00" height="3.00" fill="#1f6ff0"/><rect x="42.40" y="249.10" width="3.00" height="3.00" fill="#1f6ff0"/><rect x="43.30" y="238.80" width="3.00" height="3.00" fill="#1f6ff0"/><rect x="44.60" y="230.70" width="3.00" height="3.00" fill="#1f6ff0"/><rect x="46.60" y="221.70" width="3.00" height="3.00" fill="#1f6ff0"/><rect x="50.10" y="207.30" width="3.00" height="3.00" fill="#1f6ff0"/><rect x="53.40" y="199.30" width="3.00" height="3.00" fill="#1f6ff0"/><rect x="58.90" y="185.70" width="3.00" height="3.00" fill="#1f6ff0"/><rect x="67.30" y="170.80" width="3.00" height="3.00" fill="#1f6ff0"/>
<path d="M41.40,275.50 L41.40,274.84 L41.40,274.01 L41.40,273.03 L41.40,271.93 L41.40,270.74 L41.40,269.47 L41.40,268.17 L41.41,266.86 L41.42,265.56 L41.44,264.30 L41.47,263.10 L41.50,262.00 L41.54,260.97 L41.59,259.97 L41.65,258.99 L41.71,258.03 L41.78,257.08 L41.86,256.14 L41.93,255.21 L42.01,254.27 L42.08,253.33 L42.16,252.37 L42.23,251.40 L42.30,250.40 L42.37,249.39 L42.43,248.36 L42.50,247.32 L42.56,246.27 L42.62,245.22 L42.69,244.16 L42.75,243.10 L42.82,242.04 L42.89,240.97 L42.96,239.91 L43.03,238.85 L43.10,237.80 L43.18,236.73 L43.26,235.64 L43.34,234.52 L43.43,233.40 L43.52,232.27 L43.61,231.16 L43.69,230.06 L43.78,228.99 L43.87,227.96 L43.95,226.98 L44.03,226.06 L44.10,225.20 L44.17,224.42 L44.23,223.70 L44.28,223.05 L44.33,222.44 L44.38,221.87 L44.43,221.33 L44.48,220.81 L44.53,220.29 L44.59,219.77 L44.65,219.24 L44.72,218.69 L44.80,218.10 L44.89,217.51 L44.98,216.94 L45.07,216.39 L45.17,215.84 L45.27,215.29 L45.38,214.73 L45.49,214.15 L45.61,213.54 L45.73,212.89 L45.85,212.18 L45.97,211.43 L46.10,210.60 L46.23,209.69 L46.37,208.69 L46.51,207.61 L46.66,206.48 L46.81,205.31 L46.96,204.12 L47.12,202.92 L47.27,201.73 L47.43,200.57 L47.59,199.45 L47.74,198.39 L47.90,197.40 L48.06,196.48 L48.22,195.61 L48.38,194.77 L48.54,193.96 L48.70,193.18 L48.87,192.42 L49.03,191.67 L49.19,190.94 L49.35,190.21 L49.51,189.48 L49.66,188.75 L49.80,188.00 L49.94,187.25 L50.07,186.50 L50.20,185.77 L50.32,185.03 L50.44,184.31 L50.56,183.58 L50.68,182.86 L50.80,182.14 L50.92,181.43 L51.04,180.72 L51.17,180.01 L51.30,179.30 L51.43,178.60 L51.57,177.90 L51.71,177.21 L51.84,176.53 L51.98,175.85 L52.12,175.17 L52.27,174.49 L52.41,173.80 L52.56,173.11 L52.70,172.42 L52.85,171.71 L53.00,171.00 L53.16,170.25 L53.33,169.44 L53.51,168.59 L53.69,167.72 L53.87,166.84 L54.06,165.98 L54.23,165.15 L54.40,164.36 L54.55,163.63 L54.69,162.99 L54.81,162.44 L54.90,162.00" fill="none" stroke="#333333" stroke-width="0.8"/><circle cx="41.40" cy="274.00" r="1.70" fill="#333333"/><circle cx="41.40" cy="272.40" r="1.70" fill="#333333"/><circle cx="41.40" cy="270.80" r="1.70" fill="#333333"/><circle cx="41.40" cy="269.20" r="1.70" fill="#333333"/><circle cx="41.41" cy="267.60" r="1.70" fill="#333333"/><circle cx="41.42" cy="266.00" r="1.70" fill="#333333"/><circle cx="41.44" cy="264.20" r="1.70" fill="#333333"/><circle cx="41.49" cy="262.30" r="1.70" fill="#333333"/><circle cx="41.58" cy="260.20" r="1.70" fill="#333333"/><circle cx="41.73" cy="257.80" r="1.70" fill="#333333"/><circle cx="41.98" cy="254.60" r="1.70" fill="#333333"/><circle cx="42.30" cy="250.40" r="1.70" fill="#333333"/><circle cx="42.69" cy="244.10" r="1.70" fill="#333333"/><circle cx="43.10" cy="237.80" r="1.70" fill="#333333"/><circle cx="43.58" cy="231.50" r="1.70" fill="#333333"/><circle cx="44.10" cy="225.20" r="1.70" fill="#333333"/><circle cx="44.80" cy="218.10" r="1.70" fill="#333333"/><circle cx="46.10" cy="210.60" r="1.70" fill="#333333"/><circle cx="47.90" cy="197.40" r="1.70" fill="#333333"/><circle cx="51.30" cy="179.30" r="1.70" fill="#333333"/>
</g>
<rect x="116.70" y="165.10" width="56.20" height="40.50" fill="#fff" stroke="#9a9a9a" stroke-width="0.7"/>
<clipPath id="cdi"><rect x="116.7" y="165.1" width="56.2" height="40.5"/></clipPath>
<g clip-path="url(#cdi)">
<circle cx="116.88" cy="201.51" r="0.68" fill="#333"/><circle cx="116.92" cy="201.00" r="0.68" fill="#333"/><circle cx="116.98" cy="200.42" r="0.68" fill="#333"/><circle cx="117.06" cy="199.77" r="0.68" fill="#333"/><circle cx="117.16" cy="199.04" r="0.68" fill="#333"/><circle cx="117.28" cy="198.22" r="0.68" fill="#333"/><circle cx="117.43" cy="197.30" r="0.68" fill="#333"/><circle cx="117.63" cy="196.28" r="0.68" fill="#333"/><circle cx="117.87" cy="195.14" r="0.68" fill="#333"/><circle cx="118.18" cy="193.88" r="0.68" fill="#333"/><circle cx="118.57" cy="192.48" r="0.68" fill="#333"/><circle cx="119.05" cy="190.95" r="0.68" fill="#333"/><circle cx="119.65" cy="189.28" r="0.68" fill="#333"/><circle cx="120.40" cy="187.46" r="0.68" fill="#333"/><circle cx="121.31" cy="185.52" r="0.68" fill="#333"/><circle cx="122.43" cy="183.46" r="0.68" fill="#333"/><circle cx="123.78" cy="181.33" r="0.68" fill="#333"/><circle cx="125.39" cy="179.16" r="0.68" fill="#333"/><circle cx="127.30" cy="177.02" r="0.68" fill="#333"/><circle cx="129.50" cy="174.97" r="0.68" fill="#333"/><circle cx="132.00" cy="173.12" r="0.68" fill="#333"/><circle cx="134.78" cy="171.54" r="0.68" fill="#333"/><circle cx="137.80" cy="170.33" r="0.68" fill="#333"/><circle cx="141.00" cy="169.58" r="0.68" fill="#333"/><circle cx="144.29" cy="169.32" r="0.68" fill="#333"/><circle cx="147.57" cy="169.58" r="0.68" fill="#333"/><circle cx="150.77" cy="170.33" r="0.68" fill="#333"/><circle cx="153.79" cy="171.54" r="0.68" fill="#333"/><circle cx="156.57" cy="173.12" r="0.68" fill="#333"/><circle cx="159.08" cy="174.97" r="0.68" fill="#333"/><circle cx="161.28" cy="177.02" r="0.68" fill="#333"/><circle cx="163.18" cy="179.16" r="0.68" fill="#333"/><circle cx="164.79" cy="181.33" r="0.68" fill="#333"/><circle cx="166.14" cy="183.46" r="0.68" fill="#333"/><circle cx="167.26" cy="185.52" r="0.68" fill="#333"/><circle cx="168.18" cy="187.46" r="0.68" fill="#333"/><circle cx="168.92" cy="189.28" r="0.68" fill="#333"/><circle cx="169.52" cy="190.95" r="0.68" fill="#333"/><circle cx="170.01" cy="192.48" r="0.68" fill="#333"/><circle cx="170.39" cy="193.88" r="0.68" fill="#333"/><circle cx="170.70" cy="195.14" r="0.68" fill="#333"/><circle cx="170.95" cy="196.28" r="0.68" fill="#333"/><circle cx="171.14" cy="197.30" r="0.68" fill="#333"/><circle cx="171.30" cy="198.22" r="0.68" fill="#333"/><circle cx="171.42" cy="199.04" r="0.68" fill="#333"/><circle cx="171.51" cy="199.77" r="0.68" fill="#333"/><circle cx="171.59" cy="200.42" r="0.68" fill="#333"/><circle cx="171.65" cy="201.00" r="0.68" fill="#333"/><circle cx="171.70" cy="201.51" r="0.68" fill="#333"/>
<circle cx="120.41" cy="202.93" r="0.8" fill="#14b060"/><circle cx="120.45" cy="202.52" r="0.8" fill="#14b060"/><circle cx="120.50" cy="202.06" r="0.8" fill="#14b060"/><circle cx="120.57" cy="201.52" r="0.8" fill="#14b060"/><circle cx="120.66" cy="200.90" r="0.8" fill="#14b060"/><circle cx="120.77" cy="200.20" r="0.8" fill="#14b060"/><circle cx="120.93" cy="199.40" r="0.8" fill="#14b060"/><circle cx="121.14" cy="198.49" r="0.8" fill="#14b060"/><circle cx="121.41" cy="197.47" r="0.8" fill="#14b060"/><circle cx="121.76" cy="196.32" r="0.8" fill="#14b060"/><circle cx="122.22" cy="195.04" r="0.8" fill="#14b060"/><circle cx="122.81" cy="193.63" r="0.8" fill="#14b060"/><circle cx="123.57" cy="192.11" r="0.8" fill="#14b060"/><circle cx="124.52" cy="190.50" r="0.8" fill="#14b060"/><circle cx="125.70" cy="188.84" r="0.8" fill="#14b060"/><circle cx="127.14" cy="187.20" r="0.8" fill="#14b060"/><circle cx="128.86" cy="185.65" r="0.8" fill="#14b060"/><circle cx="130.85" cy="184.30" r="0.8" fill="#14b060"/><circle cx="133.08" cy="183.23" r="0.8" fill="#14b060"/><circle cx="135.49" cy="182.55" r="0.8" fill="#14b060"/><circle cx="138.00" cy="182.31" r="0.8" fill="#14b060"/><circle cx="140.51" cy="182.55" r="0.8" fill="#14b060"/><circle cx="142.92" cy="183.23" r="0.8" fill="#14b060"/><circle cx="145.15" cy="184.30" r="0.8" fill="#14b060"/><circle cx="147.14" cy="185.65" r="0.8" fill="#14b060"/><circle cx="148.85" cy="187.20" r="0.8" fill="#14b060"/><circle cx="150.30" cy="188.84" r="0.8" fill="#14b060"/><circle cx="151.48" cy="190.50" r="0.8" fill="#14b060"/><circle cx="152.43" cy="192.11" r="0.8" fill="#14b060"/><circle cx="153.19" cy="193.63" r="0.8" fill="#14b060"/><circle cx="153.78" cy="195.04" r="0.8" fill="#14b060"/><circle cx="154.24" cy="196.32" r="0.8" fill="#14b060"/><circle cx="154.59" cy="197.47" r="0.8" fill="#14b060"/><circle cx="154.86" cy="198.49" r="0.8" fill="#14b060"/><circle cx="155.07" cy="199.40" r="0.8" fill="#14b060"/><circle cx="155.22" cy="200.20" r="0.8" fill="#14b060"/><circle cx="155.34" cy="200.90" r="0.8" fill="#14b060"/><circle cx="155.43" cy="201.52" r="0.8" fill="#14b060"/><circle cx="155.50" cy="202.06" r="0.8" fill="#14b060"/><circle cx="155.55" cy="202.52" r="0.8" fill="#14b060"/><circle cx="155.59" cy="202.93" r="0.8" fill="#14b060"/>
<path d="M116.70,205.60 L116.73,204.56 L116.80,203.53 L116.93,202.50 L117.10,201.49 L117.33,200.50 L117.60,199.52 L117.92,198.57 L118.29,197.65 L118.69,196.76 L119.15,195.91 L119.64,195.10 L120.17,194.33 L120.74,193.61 L121.34,192.93 L121.97,192.31 L122.63,191.75 L123.32,191.24 L124.03,190.79 L124.76,190.40 L125.51,190.07 L126.28,189.81 L127.05,189.61 L127.84,189.47 L128.62,189.41 L129.41,189.41 L130.20,189.47 L130.98,189.61 L131.76,189.81 L132.52,190.07 L133.27,190.40 L134.00,190.79 L134.72,191.24 L135.40,191.75 L136.07,192.31 L136.70,192.93 L137.30,193.61 L137.87,194.33 L138.40,195.10 L138.89,195.91 L139.34,196.76 L139.75,197.65 L140.12,198.57 L140.44,199.52 L140.71,200.50 L140.93,201.49 L141.11,202.50 L141.23,203.53 L141.31,204.56 L141.34,205.60" fill="none" stroke="#1f6ff0" stroke-width="1.4"/>
<path d="M119.65,205.60 L119.66,205.18 L119.69,204.76 L119.74,204.34 L119.81,203.93 L119.91,203.53 L120.02,203.13 L120.15,202.74 L120.30,202.37 L120.46,202.01 L120.64,201.66 L120.84,201.33 L121.06,201.02 L121.29,200.73 L121.54,200.45 L121.79,200.20 L122.06,199.97 L122.34,199.77 L122.63,199.58 L122.93,199.42 L123.23,199.29 L123.54,199.18 L123.86,199.10 L124.17,199.05 L124.49,199.02 L124.82,199.02 L125.14,199.05 L125.45,199.10 L125.77,199.18 L126.08,199.29 L126.38,199.42 L126.68,199.58 L126.97,199.77 L127.25,199.97 L127.52,200.20 L127.78,200.45 L128.02,200.73 L128.25,201.02 L128.47,201.33 L128.67,201.66 L128.85,202.01 L129.02,202.37 L129.16,202.74 L129.29,203.13 L129.40,203.53 L129.50,203.93 L129.57,204.34 L129.62,204.76 L129.65,205.18 L129.66,205.60" fill="none" stroke="#c070f0" stroke-width="1.1"/>
<path d="M119.91,205.60 L119.91,205.44 L119.92,205.28 L119.94,205.12 L119.97,204.96 L120.01,204.80 L120.05,204.65 L120.10,204.50 L120.16,204.36 L120.22,204.22 L120.29,204.09 L120.37,203.96 L120.45,203.84 L120.54,203.73 L120.63,203.62 L120.73,203.52 L120.83,203.44 L120.94,203.36 L121.05,203.29 L121.17,203.22 L121.28,203.17 L121.40,203.13 L121.53,203.10 L121.65,203.08 L121.77,203.07 L121.89,203.07 L122.02,203.08 L122.14,203.10 L122.26,203.13 L122.38,203.17 L122.50,203.22 L122.61,203.29 L122.72,203.36 L122.83,203.44 L122.93,203.52 L123.03,203.62 L123.13,203.73 L123.21,203.84 L123.30,203.96 L123.37,204.09 L123.45,204.22 L123.51,204.36 L123.57,204.50 L123.62,204.65 L123.66,204.80 L123.69,204.96 L123.72,205.12 L123.74,205.28 L123.75,205.44 L123.76,205.60" fill="none" stroke="#ff2a2a" stroke-width="1.0"/>
<path d="M120.29,205.60 L120.30,205.49 L120.30,205.38 L120.32,205.28 L120.33,205.17 L120.36,205.07 L120.39,204.97 L120.42,204.87 L120.46,204.77 L120.50,204.68 L120.55,204.59 L120.60,204.51 L120.65,204.43 L120.71,204.35 L120.78,204.28 L120.84,204.22 L120.91,204.16 L120.98,204.10 L121.06,204.06 L121.13,204.02 L121.21,203.98 L121.29,203.95 L121.37,203.93 L121.45,203.92 L121.53,203.91 L121.62,203.91 L121.70,203.92 L121.78,203.93 L121.86,203.95 L121.94,203.98 L122.02,204.02 L122.10,204.06 L122.17,204.10 L122.24,204.16 L122.31,204.22 L122.38,204.28 L122.44,204.35 L122.50,204.43 L122.55,204.51 L122.60,204.59 L122.65,204.68 L122.69,204.77 L122.73,204.87 L122.77,204.97 L122.79,205.07 L122.82,205.17 L122.84,205.28 L122.85,205.38 L122.86,205.49 L122.86,205.60" fill="none" stroke="#e09a00" stroke-width="1.2"/>
</g>
<text x="116.70" y="209.60" font-size="3.6" text-anchor="middle" style="font-family:'Liberation Serif',serif" fill="#555" font-weight="normal">0</text>
<text x="134.66" y="209.60" font-size="3.6" text-anchor="middle" style="font-family:'Liberation Serif',serif" fill="#555" font-weight="normal">7</text>
<text x="152.63" y="209.60" font-size="3.6" text-anchor="middle" style="font-family:'Liberation Serif',serif" fill="#555" font-weight="normal">14</text>
<text x="170.59" y="209.60" font-size="3.6" text-anchor="middle" style="font-family:'Liberation Serif',serif" fill="#555" font-weight="normal">21</text>
<text x="115.90" y="206.80" font-size="3.6" text-anchor="end" style="font-family:'Liberation Serif',serif" fill="#555" font-weight="normal">0</text>
<text x="115.90" y="193.30" font-size="3.6" text-anchor="end" style="font-family:'Liberation Serif',serif" fill="#555" font-weight="normal">4</text>
<text x="115.90" y="179.80" font-size="3.6" text-anchor="end" style="font-family:'Liberation Serif',serif" fill="#555" font-weight="normal">8</text>
<text x="115.90" y="166.30" font-size="3.6" text-anchor="end" style="font-family:'Liberation Serif',serif" fill="#555" font-weight="normal">12</text>
<text x="145.00" y="213.00" font-size="3.6" text-anchor="middle" style="font-family:'Liberation Serif',serif" fill="#555" font-weight="normal">Z' (ohm)</text>
<text x="110.80" y="185.00" font-size="3.6" text-anchor="middle" style="font-family:'Liberation Serif',serif" fill="#555" font-weight="normal" transform="rotate(-90 110.80 185.00)">-Z'' (ohm)</text>
<g stroke="#777" stroke-width="0.45" fill="none"><path d="M138.0,175.4 H143.0 M143.0,175.4 V172.8 H151.0 V178.0 H143.0 V175.4 M151.0,175.4 H154.2"/><path d="M139.3,175.4 l0.4,-0.7 l0.4,1.4 l0.4,-1.4 l0.4,0.7"/><path d="M146.0,178.0 l0.4,-0.7 l0.4,1.4 l0.4,-1.4 l0.4,0.7"/></g>
<text x="147.00" y="182.80" font-size="3.0" text-anchor="middle" style="font-family:'Liberation Serif',serif" fill="#777" font-weight="normal">R</text>
<rect x="37.70" y="163.10" width="138.70" height="111.40" fill="none" stroke="#222" stroke-width="1.0"/>
<line x1="37.70" y1="274.50" x2="37.70" y2="272.70" stroke="#222" stroke-width="0.8"/><line x1="60.82" y1="274.50" x2="60.82" y2="272.70" stroke="#222" stroke-width="0.8"/><line x1="83.93" y1="274.50" x2="83.93" y2="272.70" stroke="#222" stroke-width="0.8"/><line x1="107.05" y1="274.50" x2="107.05" y2="272.70" stroke="#222" stroke-width="0.8"/><line x1="130.17" y1="274.50" x2="130.17" y2="272.70" stroke="#222" stroke-width="0.8"/><line x1="153.28" y1="274.50" x2="153.28" y2="272.70" stroke="#222" stroke-width="0.8"/><line x1="176.40" y1="274.50" x2="176.40" y2="272.70" stroke="#222" stroke-width="0.8"/>
<line x1="37.70" y1="274.50" x2="39.50" y2="274.50" stroke="#222" stroke-width="0.8"/><line x1="37.70" y1="255.93" x2="39.50" y2="255.93" stroke="#222" stroke-width="0.8"/><line x1="37.70" y1="237.37" x2="39.50" y2="237.37" stroke="#222" stroke-width="0.8"/><line x1="37.70" y1="218.80" x2="39.50" y2="218.80" stroke="#222" stroke-width="0.8"/><line x1="37.70" y1="200.23" x2="39.50" y2="200.23" stroke="#222" stroke-width="0.8"/><line x1="37.70" y1="181.67" x2="39.50" y2="181.67" stroke="#222" stroke-width="0.8"/><line x1="37.70" y1="163.10" x2="39.50" y2="163.10" stroke="#222" stroke-width="0.8"/>
<text x="37.70" y="284.90" font-size="9.3" text-anchor="middle" style="font-family:'Liberation Serif',serif" fill="#111" font-weight="normal" stroke="#111" stroke-width="0.227">0.0</text>
<text x="83.93" y="284.90" font-size="9.3" text-anchor="middle" style="font-family:'Liberation Serif',serif" fill="#111" font-weight="normal" stroke="#111" stroke-width="0.227">1.5</text>
<text x="130.17" y="284.90" font-size="9.3" text-anchor="middle" style="font-family:'Liberation Serif',serif" fill="#111" font-weight="normal" stroke="#111" stroke-width="0.227">3.0</text>
<text x="176.40" y="284.90" font-size="9.3" text-anchor="middle" style="font-family:'Liberation Serif',serif" fill="#111" font-weight="normal" stroke="#111" stroke-width="0.227">4.5</text>
<text x="35.30" y="277.70" font-size="9.3" text-anchor="end" style="font-family:'Liberation Serif',serif" fill="#111" font-weight="normal" stroke="#111" stroke-width="0.227">0</text>
<text x="35.30" y="240.57" font-size="9.3" text-anchor="end" style="font-family:'Liberation Serif',serif" fill="#111" font-weight="normal" stroke="#111" stroke-width="0.227">1</text>
<text x="35.30" y="203.43" font-size="9.3" text-anchor="end" style="font-family:'Liberation Serif',serif" fill="#111" font-weight="normal" stroke="#111" stroke-width="0.227">2</text>
<text x="35.30" y="166.30" font-size="9.3" text-anchor="end" style="font-family:'Liberation Serif',serif" fill="#111" font-weight="normal" stroke="#111" stroke-width="0.227">3</text>
<text x="108.7" y="291.6" font-size="9.5" text-anchor="middle" style="font-family:'Liberation Serif',serif" fill="#111" stroke="#111" stroke-width="0.232"><tspan font-style="italic">Z'</tspan> (ohm)</text>
<text transform="translate(27.6,219.5) rotate(-90)" font-size="9.3" text-anchor="middle" style="font-family:'Liberation Serif',serif" fill="#111" stroke="#111" stroke-width="0.227">-<tspan font-style="italic">Z''</tspan> (ohm)</text>
<g style="font-family:'Liberation Sans',sans-serif" font-weight="bold" fill="#000" stroke="#000" stroke-width="0.2"><text x="7.90" y="163.20" font-size="17.8" stroke="#111" stroke-width="0.435">(</text><text x="13.35" y="163.20" font-size="16.3" stroke="#111" stroke-width="0.398">d</text><text x="23.41" y="163.20" font-size="17.8" stroke="#111" stroke-width="0.435">)</text></g>
<line x1="107.70" y1="225.20" x2="118.90" y2="225.20" stroke="#1f6ff0" stroke-width="0.7"/><rect x="111.50" y="223.50" width="3.40" height="3.40" fill="#1f6ff0"/><text x="121.80" y="227.80" font-size="7.3" text-anchor="start" style="font-family:'Liberation Serif',serif" fill="#222" font-weight="normal" stroke="#222" stroke-width="0.178">MoS<tspan dy="1.61" font-size="4.53">2</tspan><tspan dy="-1.61">@NF</tspan></text>
<line x1="107.70" y1="235.60" x2="118.90" y2="235.60" stroke="#14b060" stroke-width="0.7"/><path d="M113.20,233.26 L115.25,237.35 L111.15,237.35 Z" fill="#14b060"/><text x="121.80" y="238.20" font-size="7.3" text-anchor="start" style="font-family:'Liberation Serif',serif" fill="#222" font-weight="normal" stroke="#222" stroke-width="0.178">Ni<tspan dy="1.61" font-size="4.53">3</tspan><tspan dy="-1.61">S</tspan><tspan dy="1.61" font-size="4.53">2</tspan><tspan dy="-1.61">@NF</tspan></text>
<line x1="101.00" y1="245.30" x2="113.60" y2="245.30" stroke="#c070f0" stroke-width="0.7"/><path d="M106.90,247.64 L108.95,243.55 L104.85,243.55 Z" fill="#c070f0"/><text x="115.10" y="247.90" font-size="7.3" text-anchor="start" style="font-family:'Liberation Serif',serif" fill="#222" font-weight="normal" stroke="#222" stroke-width="0.178">MoS<tspan dy="1.61" font-size="4.53">2</tspan><tspan dy="-1.61">/Ni</tspan><tspan dy="1.61" font-size="4.53">3</tspan><tspan dy="-1.61">S</tspan><tspan dy="1.61" font-size="4.53">2</tspan><tspan dy="-1.61">@NF</tspan></text>
<line x1="89.00" y1="255.60" x2="98.80" y2="255.60" stroke="#ff2a2a" stroke-width="0.7"/><circle cx="94.00" cy="255.60" r="1.95" fill="#ff2a2a"/><circle cx="94.00" cy="255.60" r="0.62" fill="#ffb0b0"/><text x="100.20" y="258.20" font-size="7.3" text-anchor="start" style="font-family:'Liberation Serif',serif" fill="#222" font-weight="normal" stroke="#222" stroke-width="0.178">P<tspan dy="1.61" font-size="4.53">[0.9 mM]</tspan><tspan dy="-1.61">-MoS</tspan><tspan dy="1.61" font-size="4.53">2</tspan><tspan dy="-1.61">/Ni</tspan><tspan dy="1.61" font-size="4.53">3</tspan><tspan dy="-1.61">S</tspan><tspan dy="1.61" font-size="4.53">2</tspan><tspan dy="-1.61">@NF</tspan></text>
<g transform="translate(57.1,220.5) rotate(-35)"><line x1="-5.6" y1="0" x2="5.6" y2="0" stroke="#e09a00" stroke-width="0.8"/><circle cx="0.00" cy="0.00" r="1.70" fill="#e09a00"/><text x="8.2" y="2.6" font-size="7.3" style="font-family:'Liberation Serif',serif" fill="#222" stroke="#222" stroke-width="0.178">Pt/C@NF</text></g>
<g transform="translate(63.5,229.6) rotate(-35)"><line x1="-5.6" y1="0" x2="5.6" y2="0" stroke="#333333" stroke-width="0.8"/><circle cx="0.00" cy="0.00" r="1.70" fill="#333333"/><text x="8.2" y="2.6" font-size="7.3" style="font-family:'Liberation Serif',serif" fill="#222" stroke="#222" stroke-width="0.178">NF</text></g>
<g transform="translate(46.79,248.70) scale(0.833,0.911)" stroke="#808080" stroke-width="1.03" fill="none"><path d="M-2.5,0 H3.2 l0.7,-1.2 l1.2,2.4 l1.2,-2.4 l1.2,2.4 l0.7,-1.2 H12.5"/><path d="M12.5,-6.2 V6.2 M12.5,-6.2 H33.5 V6.2 H12.5 M33.5,0 H40"/><path d="M21.2,-7.6 V-4.8 M22.2,-7.6 Q24.2,-6.2 22.2,-4.8"/><path d="M19.6,6.2 l0.9,-2.6 l0.9,2.0 l0.9,-2.0 l0.9,2.0 l0.9,-2.0 l0.9,2.6"/></g>
<text x="63.8" y="263.9" font-size="9.4" style="font-family:'Liberation Serif',serif" fill="#7a7a7a" stroke="#7a7a7a" stroke-width="0.230">R<tspan dy="2.2" font-size="7.8">ct</tspan></text>
<clipPath id="ce"><rect x="222.0" y="163.1" width="139.39999999999998" height="111.9"/></clipPath>
<line x1="222.0" y1="200.5" x2="361.4" y2="200.5" stroke="#222" stroke-width="0.7" stroke-dasharray="4,1.6,1,1.6"/>
<g clip-path="url(#ce)">
<path d="M361.10,158.70 L360.66,158.85 L360.11,159.05 L359.47,159.27 L358.74,159.53 L357.96,159.81 L357.12,160.10 L356.26,160.40 L355.37,160.70 L354.47,161.00 L353.59,161.29 L352.72,161.56 L351.90,161.80 L351.09,162.02 L350.26,162.24 L349.41,162.45 L348.56,162.65 L347.70,162.84 L346.84,163.04 L345.98,163.23 L345.13,163.42 L344.29,163.61 L343.47,163.80 L342.67,164.00 L341.90,164.20 L341.15,164.40 L340.42,164.61 L339.70,164.81 L339.00,165.01 L338.31,165.21 L337.63,165.41 L336.96,165.62 L336.30,165.83 L335.64,166.04 L334.99,166.25 L334.35,166.47 L333.70,166.70 L333.06,166.93 L332.42,167.16 L331.79,167.40 L331.16,167.64 L330.54,167.88 L329.93,168.13 L329.33,168.38 L328.73,168.64 L328.13,168.90 L327.55,169.16 L326.97,169.43 L326.40,169.70 L325.84,169.98 L325.28,170.27 L324.74,170.56 L324.20,170.86 L323.66,171.16 L323.14,171.46 L322.62,171.77 L322.10,172.08 L321.60,172.39 L321.09,172.69 L320.59,173.00 L320.10,173.30 L319.61,173.60 L319.14,173.90 L318.67,174.19 L318.21,174.49 L317.75,174.78 L317.30,175.07 L316.85,175.37 L316.40,175.67 L315.96,175.97 L315.51,176.28 L315.06,176.59 L314.60,176.90 L314.14,177.22 L313.67,177.54 L313.20,177.87 L312.73,178.20 L312.26,178.54 L311.79,178.88 L311.32,179.21 L310.86,179.55 L310.40,179.89 L309.96,180.23 L309.52,180.57 L309.10,180.90 L308.69,181.23 L308.28,181.56 L307.89,181.88 L307.50,182.20 L307.11,182.53 L306.74,182.85 L306.37,183.18 L306.00,183.51 L305.65,183.84 L305.29,184.19 L304.92,184.55 L304.55,184.91 L304.19,185.29 L303.84,185.69 L303.50,186.09 L303.16,186.51 L302.83,186.93 L302.50,187.35 L302.18,187.78 L301.85,188.20 L301.53,188.61 L301.21,189.02 L300.89,189.41 L300.56,189.79 L300.24,190.16 L299.92,190.50 L299.60,190.84 L299.28,191.17 L298.96,191.49 L298.64,191.81 L298.32,192.13 L298.00,192.45 L297.69,192.78 L297.37,193.12 L297.05,193.48 L296.72,193.86 L296.40,194.25 L296.08,194.66 L295.75,195.08 L295.43,195.51 L295.11,195.95 L294.78,196.39 L294.46,196.84 L294.13,197.29 L293.80,197.73 L293.47,198.18 L293.15,198.61 L292.82,199.04 L292.49,199.46 L292.16,199.88 L291.82,200.30 L291.49,200.71 L291.16,201.12 L290.82,201.54 L290.49,201.95 L290.15,202.36 L289.82,202.77 L289.49,203.19 L289.15,203.60 L288.82,204.02 L288.50,204.43 L288.17,204.82 L287.85,205.19 L287.54,205.56 L287.22,205.93 L286.90,206.31 L286.58,206.70 L286.26,207.11 L285.93,207.55 L285.60,208.03 L285.27,208.54 L284.92,209.10 L284.58,209.70 L284.23,210.33 L283.89,210.99 L283.54,211.67 L283.19,212.38 L282.84,213.12 L282.47,213.88 L282.10,214.68 L281.72,215.50 L281.32,216.35 L280.92,217.24 L280.49,218.15 L280.05,219.10 L279.59,220.09 L279.12,221.12 L278.63,222.19 L278.14,223.28 L277.63,224.40 L277.12,225.54 L276.60,226.69 L276.08,227.85 L275.56,229.02 L275.03,230.19 L274.51,231.36 L273.98,232.54 L273.44,233.74 L272.89,234.97 L272.33,236.21 L271.77,237.46 L271.21,238.72 L270.65,239.97 L270.16,241.21 L269.68,242.43 L269.21,243.64 L268.75,244.83 L268.30,246.00 L267.86,247.16 L267.42,248.33 L266.97,249.49 L266.54,250.66 L266.11,251.81 L265.68,252.96 L265.27,254.08 L264.86,255.17 L264.47,256.24 L264.10,257.27 L263.74,258.26 L263.40,259.20 L263.08,260.09 L262.78,260.93 L262.49,261.73 L262.22,262.49 L261.96,263.22 L261.72,263.92 L261.48,264.61 L261.26,265.29 L261.04,265.96 L260.82,266.63 L260.61,267.31 L260.40,268.00 L260.19,268.72 L259.99,269.47 L259.78,270.24 L259.59,271.02 L259.39,271.80 L259.21,272.55 L259.04,273.27 L258.88,273.96 L258.74,274.58 L258.61,275.14 L258.49,275.62 L258.40,276.00" fill="none" stroke="#333333" stroke-width="0.8"/>
<path d="M362.00,159.60 L361.56,159.75 L361.01,159.95 L360.37,160.17 L359.64,160.43 L358.86,160.71 L358.02,161.00 L357.16,161.30 L356.27,161.60 L355.37,161.90 L354.49,162.19 L353.62,162.46 L352.80,162.70 L351.99,162.92 L351.16,163.14 L350.31,163.35 L349.46,163.55 L348.60,163.74 L347.74,163.94 L346.88,164.13 L346.03,164.32 L345.19,164.51 L344.37,164.70 L343.57,164.90 L342.80,165.10 L342.05,165.30 L341.32,165.51 L340.60,165.71 L339.90,165.91 L339.21,166.11 L338.53,166.31 L337.86,166.52 L337.20,166.73 L336.54,166.94 L335.89,167.15 L335.25,167.37 L334.60,167.60 L333.96,167.83 L333.32,168.06 L332.69,168.30 L332.06,168.54 L331.44,168.78 L330.83,169.03 L330.23,169.28 L329.63,169.54 L329.03,169.80 L328.45,170.06 L327.87,170.33 L327.30,170.60 L326.74,170.88 L326.18,171.17 L325.64,171.46 L325.10,171.76 L324.56,172.06 L324.04,172.36 L323.52,172.67 L323.00,172.98 L322.50,173.29 L321.99,173.59 L321.49,173.90 L321.00,174.20 L320.51,174.50 L320.04,174.80 L319.57,175.09 L319.11,175.39 L318.65,175.68 L318.20,175.97 L317.75,176.27 L317.30,176.57 L316.86,176.87 L316.41,177.18 L315.96,177.49 L315.50,177.80 L315.04,178.12 L314.57,178.44 L314.10,178.77 L313.63,179.10 L313.16,179.44 L312.69,179.78 L312.22,180.11 L311.76,180.45 L311.30,180.79 L310.86,181.13 L310.42,181.47 L310.00,181.80 L309.59,182.13 L309.18,182.46 L308.79,182.78 L308.40,183.10 L308.01,183.43 L307.64,183.75 L307.27,184.08 L306.90,184.41 L306.55,184.74 L306.19,185.09 L305.84,185.44 L305.50,185.80 L305.16,186.17 L304.84,186.56 L304.52,186.96 L304.20,187.37 L303.90,187.78 L303.59,188.20 L303.29,188.62 L303.00,189.03 L302.70,189.44 L302.40,189.84 L302.10,190.23 L301.80,190.60 L301.50,190.96 L301.19,191.30 L300.89,191.63 L300.59,191.95 L300.29,192.27 L299.99,192.58 L299.69,192.90 L299.40,193.21 L299.10,193.54 L298.80,193.88 L298.50,194.23 L298.20,194.60 L297.90,194.99 L297.60,195.39 L297.30,195.80 L297.00,196.23 L296.71,196.66 L296.41,197.09 L296.11,197.53 L295.81,197.97 L295.51,198.41 L295.21,198.85 L294.90,199.28 L294.60,199.70 L294.29,200.12 L293.99,200.53 L293.68,200.94 L293.37,201.34 L293.06,201.75 L292.75,202.16 L292.44,202.56 L292.13,202.97 L291.82,203.37 L291.51,203.78 L291.21,204.19 L290.90,204.60 L290.60,205.00 L290.30,205.38 L290.00,205.75 L289.70,206.11 L289.41,206.48 L289.11,206.85 L288.82,207.24 L288.52,207.64 L288.22,208.07 L287.92,208.54 L287.61,209.05 L287.30,209.60 L286.99,210.19 L286.68,210.81 L286.38,211.45 L286.07,212.13 L285.76,212.82 L285.45,213.55 L285.13,214.30 L284.81,215.09 L284.47,215.90 L284.13,216.73 L283.77,217.60 L283.40,218.50 L283.01,219.44 L282.61,220.41 L282.20,221.43 L281.78,222.47 L281.35,223.55 L280.91,224.65 L280.47,225.77 L280.02,226.90 L279.57,228.05 L279.11,229.20 L278.65,230.35 L278.20,231.50 L277.74,232.66 L277.27,233.84 L276.79,235.05 L276.31,236.27 L275.82,237.50 L275.33,238.74 L274.84,239.97 L274.36,241.21 L273.88,242.43 L273.41,243.64 L272.95,244.83 L272.50,246.00 L272.06,247.16 L271.62,248.33 L271.17,249.49 L270.74,250.66 L270.31,251.81 L269.88,252.96 L269.47,254.08 L269.06,255.17 L268.67,256.24 L268.30,257.27 L267.94,258.26 L267.60,259.20 L267.28,260.09 L266.98,260.93 L266.69,261.73 L266.42,262.49 L266.16,263.22 L265.92,263.92 L265.68,264.61 L265.46,265.29 L265.24,265.96 L265.02,266.63 L264.81,267.31 L264.60,268.00 L264.39,268.72 L264.19,269.47 L263.98,270.24 L263.79,271.02 L263.59,271.80 L263.41,272.55 L263.24,273.27 L263.08,273.96 L262.94,274.58 L262.81,275.14 L262.69,275.62 L262.60,276.00" fill="none" stroke="#ff2a2a" stroke-width="0.8"/>
<rect x="350.49" y="159.88" width="3.60" height="3.60" fill="#3a3a3a"/>
<rect x="341.16" y="162.13" width="3.60" height="3.60" fill="#3a3a3a"/>
<rect x="332.10" y="164.83" width="3.60" height="3.60" fill="#3a3a3a"/>
<rect x="323.76" y="168.32" width="3.60" height="3.60" fill="#3a3a3a"/>
<rect x="316.44" y="172.67" width="3.60" height="3.60" fill="#3a3a3a"/>
<rect x="309.95" y="177.10" width="3.60" height="3.60" fill="#3a3a3a"/>
<rect x="304.35" y="181.58" width="3.60" height="3.60" fill="#3a3a3a"/>
<rect x="300.03" y="186.42" width="3.60" height="3.60" fill="#3a3a3a"/>
<rect x="295.93" y="190.93" width="3.60" height="3.60" fill="#3a3a3a"/>
<rect x="292.16" y="195.72" width="3.60" height="3.60" fill="#3a3a3a"/>
<rect x="288.39" y="200.51" width="3.60" height="3.60" fill="#3a3a3a"/>
<rect x="284.52" y="205.23" width="3.60" height="3.60" fill="#3a3a3a"/>
<rect x="281.44" y="210.48" width="3.60" height="3.60" fill="#3a3a3a"/>
<rect x="278.85" y="216.00" width="3.60" height="3.60" fill="#3a3a3a"/>
<rect x="276.31" y="221.55" width="3.60" height="3.60" fill="#3a3a3a"/>
<rect x="273.81" y="227.11" width="3.60" height="3.60" fill="#3a3a3a"/>
<rect x="271.31" y="232.68" width="3.60" height="3.60" fill="#3a3a3a"/>
<rect x="268.82" y="238.24" width="3.60" height="3.60" fill="#3a3a3a"/>
<rect x="266.60" y="243.93" width="3.60" height="3.60" fill="#3a3a3a"/>
<rect x="264.45" y="249.63" width="3.60" height="3.60" fill="#3a3a3a"/>
<rect x="262.34" y="255.36" width="3.60" height="3.60" fill="#3a3a3a"/>
<rect x="260.28" y="261.10" width="3.60" height="3.60" fill="#3a3a3a"/>
<rect x="258.40" y="266.90" width="3.60" height="3.60" fill="#3a3a3a"/>
<rect x="256.93" y="272.82" width="3.60" height="3.60" fill="#3a3a3a"/>
<circle cx="353.19" cy="162.58" r="2.05" fill="#ff2a2a"/><circle cx="353.19" cy="162.58" r="0.66" fill="#ffb0b0"/>
<circle cx="343.86" cy="164.83" r="2.05" fill="#ff2a2a"/><circle cx="343.86" cy="164.83" r="0.66" fill="#ffb0b0"/>
<circle cx="334.93" cy="167.49" r="2.05" fill="#ff2a2a"/><circle cx="334.93" cy="167.49" r="0.66" fill="#ffb0b0"/>
<circle cx="326.70" cy="170.90" r="2.05" fill="#ff2a2a"/><circle cx="326.70" cy="170.90" r="0.66" fill="#ffb0b0"/>
<circle cx="319.46" cy="175.16" r="2.05" fill="#ff2a2a"/><circle cx="319.46" cy="175.16" r="0.66" fill="#ffb0b0"/>
<circle cx="313.05" cy="179.51" r="2.05" fill="#ff2a2a"/><circle cx="313.05" cy="179.51" r="0.66" fill="#ffb0b0"/>
<circle cx="307.48" cy="183.89" r="2.05" fill="#ff2a2a"/><circle cx="307.48" cy="183.89" r="0.66" fill="#ffb0b0"/>
<circle cx="303.24" cy="188.69" r="2.05" fill="#ff2a2a"/><circle cx="303.24" cy="188.69" r="0.66" fill="#ffb0b0"/>
<circle cx="299.29" cy="193.33" r="2.05" fill="#ff2a2a"/><circle cx="299.29" cy="193.33" r="0.66" fill="#ffb0b0"/>
<circle cx="295.65" cy="198.21" r="2.05" fill="#ff2a2a"/><circle cx="295.65" cy="198.21" r="0.66" fill="#ffb0b0"/>
<circle cx="292.02" cy="203.11" r="2.05" fill="#ff2a2a"/><circle cx="292.02" cy="203.11" r="0.66" fill="#ffb0b0"/>
<circle cx="288.31" cy="207.95" r="2.05" fill="#ff2a2a"/><circle cx="288.31" cy="207.95" r="0.66" fill="#ffb0b0"/>
<circle cx="285.53" cy="213.37" r="2.05" fill="#ff2a2a"/><circle cx="285.53" cy="213.37" r="0.66" fill="#ffb0b0"/>
<circle cx="283.19" cy="219.00" r="2.05" fill="#ff2a2a"/><circle cx="283.19" cy="219.00" r="0.66" fill="#ffb0b0"/>
<circle cx="280.91" cy="224.66" r="2.05" fill="#ff2a2a"/><circle cx="280.91" cy="224.66" r="0.66" fill="#ffb0b0"/>
<circle cx="278.66" cy="230.33" r="2.05" fill="#ff2a2a"/><circle cx="278.66" cy="230.33" r="0.66" fill="#ffb0b0"/>
<circle cx="276.41" cy="236.00" r="2.05" fill="#ff2a2a"/><circle cx="276.41" cy="236.00" r="0.66" fill="#ffb0b0"/>
<circle cx="274.18" cy="241.68" r="2.05" fill="#ff2a2a"/><circle cx="274.18" cy="241.68" r="0.66" fill="#ffb0b0"/>
<circle cx="271.98" cy="247.37" r="2.05" fill="#ff2a2a"/><circle cx="271.98" cy="247.37" r="0.66" fill="#ffb0b0"/>
<circle cx="269.84" cy="253.08" r="2.05" fill="#ff2a2a"/><circle cx="269.84" cy="253.08" r="0.66" fill="#ffb0b0"/>
<circle cx="267.74" cy="258.81" r="2.05" fill="#ff2a2a"/><circle cx="267.74" cy="258.81" r="0.66" fill="#ffb0b0"/>
<circle cx="265.70" cy="264.56" r="2.05" fill="#ff2a2a"/><circle cx="265.70" cy="264.56" r="0.66" fill="#ffb0b0"/>
<circle cx="263.94" cy="270.39" r="2.05" fill="#ff2a2a"/><circle cx="263.94" cy="270.39" r="0.66" fill="#ffb0b0"/>
</g>
<rect x="295.00" y="215.00" width="63.10" height="49.70" fill="#fff" stroke="#8a8a8a" stroke-width="0.7"/>
<line x1="295.50" y1="223.28" x2="357.60" y2="223.28" stroke="#ff2a2a" stroke-width="1.4"/>
<text x="294.00" y="266.10" font-size="4.0" text-anchor="end" style="font-family:'Liberation Serif',serif" fill="#666" font-weight="normal">0</text>
<line x1="295.00" y1="264.70" x2="296.00" y2="264.70" stroke="#888" stroke-width="0.4"/>
<text x="294.00" y="257.82" font-size="4.0" text-anchor="end" style="font-family:'Liberation Serif',serif" fill="#666" font-weight="normal">20</text>
<line x1="295.00" y1="256.42" x2="296.00" y2="256.42" stroke="#888" stroke-width="0.4"/>
<text x="294.00" y="249.53" font-size="4.0" text-anchor="end" style="font-family:'Liberation Serif',serif" fill="#666" font-weight="normal">40</text>
<line x1="295.00" y1="248.13" x2="296.00" y2="248.13" stroke="#888" stroke-width="0.4"/>
<text x="294.00" y="241.25" font-size="4.0" text-anchor="end" style="font-family:'Liberation Serif',serif" fill="#666" font-weight="normal">60</text>
<line x1="295.00" y1="239.85" x2="296.00" y2="239.85" stroke="#888" stroke-width="0.4"/>
<text x="294.00" y="232.97" font-size="4.0" text-anchor="end" style="font-family:'Liberation Serif',serif" fill="#666" font-weight="normal">80</text>
<line x1="295.00" y1="231.57" x2="296.00" y2="231.57" stroke="#888" stroke-width="0.4"/>
<text x="294.00" y="224.68" font-size="4.0" text-anchor="end" style="font-family:'Liberation Serif',serif" fill="#666" font-weight="normal">100</text>
<line x1="295.00" y1="223.28" x2="296.00" y2="223.28" stroke="#888" stroke-width="0.4"/>
<text x="294.00" y="216.40" font-size="4.0" text-anchor="end" style="font-family:'Liberation Serif',serif" fill="#666" font-weight="normal">120</text>
<line x1="295.00" y1="215.00" x2="296.00" y2="215.00" stroke="#888" stroke-width="0.4"/>
<text x="295.00" y="269.50" font-size="4.0" text-anchor="middle" style="font-family:'Liberation Serif',serif" fill="#666" font-weight="normal">0</text>
<line x1="295.00" y1="264.70" x2="295.00" y2="263.70" stroke="#888" stroke-width="0.4"/>
<text x="307.62" y="269.50" font-size="4.0" text-anchor="middle" style="font-family:'Liberation Serif',serif" fill="#666" font-weight="normal">10</text>
<line x1="307.62" y1="264.70" x2="307.62" y2="263.70" stroke="#888" stroke-width="0.4"/>
<text x="320.24" y="269.50" font-size="4.0" text-anchor="middle" style="font-family:'Liberation Serif',serif" fill="#666" font-weight="normal">20</text>
<line x1="320.24" y1="264.70" x2="320.24" y2="263.70" stroke="#888" stroke-width="0.4"/>
<text x="332.86" y="269.50" font-size="4.0" text-anchor="middle" style="font-family:'Liberation Serif',serif" fill="#666" font-weight="normal">30</text>
<line x1="332.86" y1="264.70" x2="332.86" y2="263.70" stroke="#888" stroke-width="0.4"/>
<text x="345.48" y="269.50" font-size="4.0" text-anchor="middle" style="font-family:'Liberation Serif',serif" fill="#666" font-weight="normal">40</text>
<line x1="345.48" y1="264.70" x2="345.48" y2="263.70" stroke="#888" stroke-width="0.4"/>
<text x="358.10" y="269.50" font-size="4.0" text-anchor="middle" style="font-family:'Liberation Serif',serif" fill="#666" font-weight="normal">50</text>
<line x1="358.10" y1="264.70" x2="358.10" y2="263.70" stroke="#888" stroke-width="0.4"/>
<text x="326.00" y="273.20" font-size="4.4" text-anchor="middle" style="font-family:'Liberation Serif',serif" fill="#666" font-weight="normal">Time (h)</text>
<text x="286.20" y="240.00" font-size="4.2" text-anchor="middle" style="font-family:'Liberation Serif',serif" fill="#555" font-weight="normal" transform="rotate(-90 286.20 240.00)">Current density (%)</text>
<text x="320.50" y="228.40" font-size="3.8" text-anchor="middle" style="font-family:'Liberation Serif',serif" fill="#333" font-weight="bold">η = 125 mV</text>
<text x="301.50" y="234.60" font-size="3.8" text-anchor="middle" style="font-family:'Liberation Serif',serif" fill="#c070f0" font-weight="bold">100 %</text>
<text x="347.00" y="234.60" font-size="3.8" text-anchor="middle" style="font-family:'Liberation Serif',serif" fill="#14b060" font-weight="bold">99.6 %</text>
<line x1="300" y1="231" x2="297.5" y2="228.5" stroke="#c070f0" stroke-width="0.35"/>
<line x1="348.5" y1="231" x2="351" y2="228.5" stroke="#14b060" stroke-width="0.35"/>
<line x1="307.5" y1="246.3" x2="314.5" y2="246.3" stroke="#ff2a2a" stroke-width="0.6"/>
<circle cx="311" cy="246.3" r="1.1" fill="#ff2a2a"/>
<text x="316.00" y="247.60" font-size="3.8" text-anchor="start" style="font-family:'Liberation Serif',serif" fill="#555" font-weight="normal">P<tspan dy="0.84" font-size="2.36">[0.9 mM]</tspan><tspan dy="-0.84">-MoS</tspan><tspan dy="0.84" font-size="2.36">2</tspan><tspan dy="-0.84">/Ni</tspan><tspan dy="0.84" font-size="2.36">3</tspan><tspan dy="-0.84">S</tspan><tspan dy="0.84" font-size="2.36">2</tspan><tspan dy="-0.84">@NF</tspan></text>
<text x="227.90" y="176.00" font-size="7.4" text-anchor="start" style="font-family:'Liberation Serif',serif" fill="#222" font-weight="normal" stroke="#222" stroke-width="0.181">P<tspan dy="1.63" font-size="4.59">[0.9 mM]</tspan><tspan dy="-1.63">-MoS</tspan><tspan dy="1.63" font-size="4.59">2</tspan><tspan dy="-1.63">/Ni</tspan><tspan dy="1.63" font-size="4.59">3</tspan><tspan dy="-1.63">S</tspan><tspan dy="1.63" font-size="4.59">2</tspan><tspan dy="-1.63">@NF</tspan></text>
<line x1="226" y1="183.4" x2="238" y2="183.4" stroke="#ff2a2a" stroke-width="0.8"/>
<circle cx="232.00" cy="183.40" r="1.80" fill="#ff2a2a"/><circle cx="232.00" cy="183.40" r="0.58" fill="#ffb0b0"/>
<text x="240.80" y="186.00" font-size="7.4" text-anchor="start" style="font-family:'Liberation Serif',serif" fill="#222" font-weight="normal" stroke="#222" stroke-width="0.181">initial</text>
<line x1="226" y1="191.7" x2="238" y2="191.7" stroke="#333333" stroke-width="0.8"/>
<rect x="230.40" y="190.10" width="3.20" height="3.20" fill="#3a3a3a"/>
<text x="240.80" y="194.30" font-size="7.4" text-anchor="start" style="font-family:'Liberation Serif',serif" fill="#222" font-weight="normal" stroke="#222" stroke-width="0.181">After 3000 cycles</text>
<text x="304.60" y="208.80" font-size="7.3" text-anchor="start" style="font-family:'Liberation Serif',serif" fill="#111" font-weight="bold" stroke="#111" stroke-width="0.178">j = 50 mA·cm<tspan dy="-2.77" font-size="4.53">-2</tspan></text>
<text x="243.30" y="220.90" font-size="6.4" text-anchor="start" style="font-family:'Liberation Serif',serif" fill="#111" font-weight="bold" stroke="#111" stroke-width="0.156">123 mV</text>
<text x="319.00" y="191.60" font-size="6.4" text-anchor="start" style="font-family:'Liberation Serif',serif" fill="#ff2a2a" font-weight="bold" stroke="#ff2a2a" stroke-width="0.156">120 mV</text>
<line x1="291.3" y1="201.6" x2="267.5" y2="214.0" stroke="#333" stroke-width="0.6"/>
<path d="M266.0,214.8 L269.4,211.5 L270.2,213.3 Z" fill="#333"/>
<line x1="295.5" y1="201.0" x2="317.0" y2="193.4" stroke="#ff2a2a" stroke-width="0.6"/>
<path d="M319.0,192.7 L315.4,192.6 L316.2,194.8 Z" fill="#ff2a2a"/>
<rect x="222.00" y="163.10" width="139.40" height="111.90" fill="none" stroke="#222" stroke-width="1.0"/>
<line x1="222.00" y1="275.00" x2="222.00" y2="273.20" stroke="#222" stroke-width="0.8"/><line x1="245.23" y1="275.00" x2="245.23" y2="273.20" stroke="#222" stroke-width="0.8"/><line x1="268.47" y1="275.00" x2="268.47" y2="273.20" stroke="#222" stroke-width="0.8"/><line x1="291.70" y1="275.00" x2="291.70" y2="273.20" stroke="#222" stroke-width="0.8"/><line x1="314.93" y1="275.00" x2="314.93" y2="273.20" stroke="#222" stroke-width="0.8"/><line x1="338.17" y1="275.00" x2="338.17" y2="273.20" stroke="#222" stroke-width="0.8"/><line x1="361.40" y1="275.00" x2="361.40" y2="273.20" stroke="#222" stroke-width="0.8"/>
<line x1="222.00" y1="163.10" x2="223.80" y2="163.10" stroke="#222" stroke-width="0.8"/><line x1="222.00" y1="181.75" x2="223.80" y2="181.75" stroke="#222" stroke-width="0.8"/><line x1="222.00" y1="200.40" x2="223.80" y2="200.40" stroke="#222" stroke-width="0.8"/><line x1="222.00" y1="219.05" x2="223.80" y2="219.05" stroke="#222" stroke-width="0.8"/><line x1="222.00" y1="237.70" x2="223.80" y2="237.70" stroke="#222" stroke-width="0.8"/><line x1="222.00" y1="256.35" x2="223.80" y2="256.35" stroke="#222" stroke-width="0.8"/><line x1="222.00" y1="275.00" x2="223.80" y2="275.00" stroke="#222" stroke-width="0.8"/>
<text x="222.00" y="285.00" font-size="9.3" text-anchor="middle" style="font-family:'Liberation Serif',serif" fill="#111" font-weight="normal" stroke="#111" stroke-width="0.227">-0.20</text>
<text x="268.47" y="285.00" font-size="9.3" text-anchor="middle" style="font-family:'Liberation Serif',serif" fill="#111" font-weight="normal" stroke="#111" stroke-width="0.227">-0.15</text>
<text x="314.93" y="285.00" font-size="9.3" text-anchor="middle" style="font-family:'Liberation Serif',serif" fill="#111" font-weight="normal" stroke="#111" stroke-width="0.227">-0.10</text>
<text x="361.40" y="285.00" font-size="9.3" text-anchor="middle" style="font-family:'Liberation Serif',serif" fill="#111" font-weight="normal" stroke="#111" stroke-width="0.227">-0.05</text>
<text x="219.60" y="166.30" font-size="9.3" text-anchor="end" style="font-family:'Liberation Serif',serif" fill="#111" font-weight="normal" stroke="#111" stroke-width="0.227">0</text>
<text x="219.60" y="203.60" font-size="9.3" text-anchor="end" style="font-family:'Liberation Serif',serif" fill="#111" font-weight="normal" stroke="#111" stroke-width="0.227">-50</text>
<text x="219.60" y="240.90" font-size="9.3" text-anchor="end" style="font-family:'Liberation Serif',serif" fill="#111" font-weight="normal" stroke="#111" stroke-width="0.227">-100</text>
<text x="219.60" y="278.20" font-size="9.3" text-anchor="end" style="font-family:'Liberation Serif',serif" fill="#111" font-weight="normal" stroke="#111" stroke-width="0.227">-150</text>
<text x="291.40" y="294.20" font-size="9.4" text-anchor="middle" style="font-family:'Liberation Serif',serif" fill="#111" font-weight="normal" stroke="#111" stroke-width="0.230">Potential (V vs. RHE)</text>
<text x="200.60" y="220.30" font-size="9.6" text-anchor="middle" style="font-family:'Liberation Serif',serif" fill="#111" font-weight="normal" transform="rotate(-90 200.60 220.30)" stroke="#111" stroke-width="0.235">Current density (mA·cm<tspan dy="-3.65" font-size="5.95">-2</tspan><tspan dy="3.65">)</tspan></text>
<g style="font-family:'Liberation Sans',sans-serif" font-weight="bold" fill="#000" stroke="#000" stroke-width="0.2"><text x="189.40" y="161.80" font-size="17.8" stroke="#111" stroke-width="0.435">(</text><text x="194.85" y="161.80" font-size="16.3" stroke="#111" stroke-width="0.398">e</text><text x="204.71" y="161.80" font-size="17.8" stroke="#111" stroke-width="0.435">)</text></g>
<clipPath id="cf"><rect x="404.7" y="164.5" width="138.3" height="113.0"/></clipPath>
<g clip-path="url(#cf)">
<path d="M409.79,275.50 L409.84,272.09 L410.00,268.69 L410.25,265.30 L410.61,261.93 L411.07,258.57 L411.63,255.25 L412.29,251.95 L413.05,248.70 L413.91,245.48 L414.86,242.31 L415.91,239.20 L417.05,236.14 L418.28,233.15 L419.60,230.22 L421.01,227.36 L422.50,224.58 L424.08,221.88 L425.73,219.27 L427.47,216.74 L429.28,214.31 L431.16,211.97 L433.10,209.73 L435.12,207.60 L437.20,205.58 L439.33,203.66 L441.53,201.86 L443.77,200.18 L446.07,198.61 L448.41,197.17 L450.79,195.85 L453.21,194.66 L455.66,193.59 L458.14,192.65 L460.65,191.85 L463.18,191.18 L465.73,190.64 L468.30,190.23 L470.87,189.96 L473.45,189.82 L476.04,189.82 L478.62,189.96 L481.19,190.23 L483.76,190.64 L486.31,191.18 L488.84,191.85 L491.35,192.65 L493.83,193.59 L496.28,194.66 L498.70,195.85 L501.08,197.17 L503.42,198.61 L505.72,200.18 L507.96,201.86 L510.16,203.66 L512.29,205.58 L514.37,207.60 L516.39,209.73 L518.33,211.97 L520.21,214.31 L522.02,216.74 L523.76,219.27 L525.41,221.88 L526.99,224.58 L528.48,227.36 L529.89,230.22 L531.21,233.15 L532.44,236.14 L533.58,239.20 L534.63,242.31 L535.58,245.48 L536.44,248.70 L537.20,251.95 L537.86,255.25 L538.42,258.57 L538.88,261.93 L539.24,265.30 L539.49,268.69 L539.65,272.09 L539.70,275.50" fill="none" stroke="#333333" stroke-width="0.8"/>
<path d="M413.89,275.50 L413.94,272.24 L414.08,268.99 L414.31,265.75 L414.64,262.52 L415.06,259.32 L415.57,256.14 L416.17,252.99 L416.87,249.88 L417.65,246.80 L418.52,243.78 L419.47,240.80 L420.51,237.88 L421.64,235.01 L422.84,232.21 L424.13,229.48 L425.49,226.82 L426.93,224.24 L428.44,221.74 L430.02,219.33 L431.67,217.00 L433.38,214.77 L435.16,212.63 L437.00,210.59 L438.89,208.66 L440.84,206.83 L442.84,205.11 L444.89,203.50 L446.99,202.00 L449.12,200.62 L451.29,199.36 L453.50,198.22 L455.74,197.20 L458.00,196.30 L460.29,195.53 L462.60,194.89 L464.93,194.37 L467.27,193.99 L469.62,193.73 L471.97,193.60 L474.33,193.60 L476.68,193.73 L479.03,193.99 L481.37,194.37 L483.70,194.89 L486.01,195.53 L488.30,196.30 L490.56,197.20 L492.80,198.22 L495.01,199.36 L497.18,200.62 L499.32,202.00 L501.41,203.50 L503.46,205.11 L505.46,206.83 L507.41,208.66 L509.30,210.59 L511.14,212.63 L512.92,214.77 L514.63,217.00 L516.28,219.33 L517.86,221.74 L519.37,224.24 L520.81,226.82 L522.17,229.48 L523.46,232.21 L524.66,235.01 L525.79,237.88 L526.83,240.80 L527.78,243.78 L528.65,246.80 L529.43,249.88 L530.13,252.99 L530.73,256.14 L531.24,259.32 L531.66,262.52 L531.99,265.75 L532.22,268.99 L532.36,272.24 L532.41,275.50" fill="none" stroke="#ff2a2a" stroke-width="0.8"/>
<rect x="408.23" y="271.06" width="3.20" height="3.20" fill="#3a3a3a"/>
<rect x="408.24" y="270.46" width="3.20" height="3.20" fill="#3a3a3a"/>
<rect x="408.27" y="269.75" width="3.20" height="3.20" fill="#3a3a3a"/>
<rect x="408.30" y="268.89" width="3.20" height="3.20" fill="#3a3a3a"/>
<rect x="408.35" y="267.85" width="3.20" height="3.20" fill="#3a3a3a"/>
<rect x="408.43" y="266.60" width="3.20" height="3.20" fill="#3a3a3a"/>
<rect x="408.54" y="265.09" width="3.20" height="3.20" fill="#3a3a3a"/>
<rect x="408.69" y="263.27" width="3.20" height="3.20" fill="#3a3a3a"/>
<rect x="408.92" y="261.08" width="3.20" height="3.20" fill="#3a3a3a"/>
<rect x="409.26" y="258.46" width="3.20" height="3.20" fill="#3a3a3a"/>
<rect x="409.74" y="255.32" width="3.20" height="3.20" fill="#3a3a3a"/>
<rect x="410.43" y="251.58" width="3.20" height="3.20" fill="#3a3a3a"/>
<rect x="411.44" y="247.16" width="3.20" height="3.20" fill="#3a3a3a"/>
<rect x="412.87" y="241.97" width="3.20" height="3.20" fill="#3a3a3a"/>
<rect x="414.91" y="235.96" width="3.20" height="3.20" fill="#3a3a3a"/>
<rect x="417.76" y="229.13" width="3.20" height="3.20" fill="#3a3a3a"/>
<rect x="421.69" y="221.60" width="3.20" height="3.20" fill="#3a3a3a"/>
<rect x="426.99" y="213.60" width="3.20" height="3.20" fill="#3a3a3a"/>
<rect x="433.91" y="205.61" width="3.20" height="3.20" fill="#3a3a3a"/>
<rect x="442.58" y="198.29" width="3.20" height="3.20" fill="#3a3a3a"/>
<rect x="452.93" y="192.46" width="3.20" height="3.20" fill="#3a3a3a"/>
<rect x="464.55" y="188.96" width="3.20" height="3.20" fill="#3a3a3a"/>
<rect x="476.76" y="188.34" width="3.20" height="3.20" fill="#3a3a3a"/>
<rect x="488.72" y="190.71" width="3.20" height="3.20" fill="#3a3a3a"/>
<rect x="499.65" y="195.67" width="3.20" height="3.20" fill="#3a3a3a"/>
<rect x="509.04" y="202.48" width="3.20" height="3.20" fill="#3a3a3a"/>
<rect x="516.67" y="210.30" width="3.20" height="3.20" fill="#3a3a3a"/>
<rect x="522.61" y="218.36" width="3.20" height="3.20" fill="#3a3a3a"/>
<rect x="527.06" y="226.12" width="3.20" height="3.20" fill="#3a3a3a"/>
<rect x="530.33" y="233.26" width="3.20" height="3.20" fill="#3a3a3a"/>
<rect x="532.67" y="239.60" width="3.20" height="3.20" fill="#3a3a3a"/>
<rect x="534.33" y="245.13" width="3.20" height="3.20" fill="#3a3a3a"/>
<rect x="535.49" y="249.86" width="3.20" height="3.20" fill="#3a3a3a"/>
<rect x="536.30" y="253.87" width="3.20" height="3.20" fill="#3a3a3a"/>
<rect x="536.86" y="257.24" width="3.20" height="3.20" fill="#3a3a3a"/>
<rect x="537.25" y="260.07" width="3.20" height="3.20" fill="#3a3a3a"/>
<rect x="537.51" y="262.42" width="3.20" height="3.20" fill="#3a3a3a"/>
<rect x="537.70" y="264.38" width="3.20" height="3.20" fill="#3a3a3a"/>
<rect x="537.82" y="266.01" width="3.20" height="3.20" fill="#3a3a3a"/>
<rect x="537.91" y="267.37" width="3.20" height="3.20" fill="#3a3a3a"/>
<rect x="537.97" y="268.49" width="3.20" height="3.20" fill="#3a3a3a"/>
<rect x="538.01" y="269.42" width="3.20" height="3.20" fill="#3a3a3a"/>
<rect x="538.04" y="270.19" width="3.20" height="3.20" fill="#3a3a3a"/>
<rect x="538.06" y="270.83" width="3.20" height="3.20" fill="#3a3a3a"/>
<rect x="538.07" y="271.36" width="3.20" height="3.20" fill="#3a3a3a"/>
<circle cx="413.93" cy="272.74" r="1.90" fill="#ff2a2a"/><circle cx="413.93" cy="272.74" r="0.61" fill="#ffb0b0"/>
<circle cx="413.94" cy="272.17" r="1.90" fill="#ff2a2a"/><circle cx="413.94" cy="272.17" r="0.61" fill="#ffb0b0"/>
<circle cx="413.96" cy="271.48" r="1.90" fill="#ff2a2a"/><circle cx="413.96" cy="271.48" r="0.61" fill="#ffb0b0"/>
<circle cx="414.00" cy="270.65" r="1.90" fill="#ff2a2a"/><circle cx="414.00" cy="270.65" r="0.61" fill="#ffb0b0"/>
<circle cx="414.04" cy="269.64" r="1.90" fill="#ff2a2a"/><circle cx="414.04" cy="269.64" r="0.61" fill="#ffb0b0"/>
<circle cx="414.11" cy="268.43" r="1.90" fill="#ff2a2a"/><circle cx="414.11" cy="268.43" r="0.61" fill="#ffb0b0"/>
<circle cx="414.22" cy="266.96" r="1.90" fill="#ff2a2a"/><circle cx="414.22" cy="266.96" r="0.61" fill="#ffb0b0"/>
<circle cx="414.36" cy="265.20" r="1.90" fill="#ff2a2a"/><circle cx="414.36" cy="265.20" r="0.61" fill="#ffb0b0"/>
<circle cx="414.58" cy="263.08" r="1.90" fill="#ff2a2a"/><circle cx="414.58" cy="263.08" r="0.61" fill="#ffb0b0"/>
<circle cx="414.89" cy="260.54" r="1.90" fill="#ff2a2a"/><circle cx="414.89" cy="260.54" r="0.61" fill="#ffb0b0"/>
<circle cx="415.34" cy="257.50" r="1.90" fill="#ff2a2a"/><circle cx="415.34" cy="257.50" r="0.61" fill="#ffb0b0"/>
<circle cx="415.99" cy="253.89" r="1.90" fill="#ff2a2a"/><circle cx="415.99" cy="253.89" r="0.61" fill="#ffb0b0"/>
<circle cx="416.93" cy="249.60" r="1.90" fill="#ff2a2a"/><circle cx="416.93" cy="249.60" r="0.61" fill="#ffb0b0"/>
<circle cx="418.27" cy="244.59" r="1.90" fill="#ff2a2a"/><circle cx="418.27" cy="244.59" r="0.61" fill="#ffb0b0"/>
<circle cx="420.18" cy="238.78" r="1.90" fill="#ff2a2a"/><circle cx="420.18" cy="238.78" r="0.61" fill="#ffb0b0"/>
<circle cx="422.84" cy="232.21" r="1.90" fill="#ff2a2a"/><circle cx="422.84" cy="232.21" r="0.61" fill="#ffb0b0"/>
<circle cx="426.51" cy="224.96" r="1.90" fill="#ff2a2a"/><circle cx="426.51" cy="224.96" r="0.61" fill="#ffb0b0"/>
<circle cx="431.45" cy="217.30" r="1.90" fill="#ff2a2a"/><circle cx="431.45" cy="217.30" r="0.61" fill="#ffb0b0"/>
<circle cx="437.87" cy="209.68" r="1.90" fill="#ff2a2a"/><circle cx="437.87" cy="209.68" r="0.61" fill="#ffb0b0"/>
<circle cx="445.90" cy="202.76" r="1.90" fill="#ff2a2a"/><circle cx="445.90" cy="202.76" r="0.61" fill="#ffb0b0"/>
<circle cx="455.44" cy="197.33" r="1.90" fill="#ff2a2a"/><circle cx="455.44" cy="197.33" r="0.61" fill="#ffb0b0"/>
<circle cx="466.10" cy="194.16" r="1.90" fill="#ff2a2a"/><circle cx="466.10" cy="194.16" r="0.61" fill="#ffb0b0"/>
<circle cx="477.25" cy="193.78" r="1.90" fill="#ff2a2a"/><circle cx="477.25" cy="193.78" r="0.61" fill="#ffb0b0"/>
<circle cx="488.12" cy="196.24" r="1.90" fill="#ff2a2a"/><circle cx="488.12" cy="196.24" r="0.61" fill="#ffb0b0"/>
<circle cx="498.00" cy="201.13" r="1.90" fill="#ff2a2a"/><circle cx="498.00" cy="201.13" r="0.61" fill="#ffb0b0"/>
<circle cx="506.45" cy="207.74" r="1.90" fill="#ff2a2a"/><circle cx="506.45" cy="207.74" r="0.61" fill="#ffb0b0"/>
<circle cx="513.30" cy="215.25" r="1.90" fill="#ff2a2a"/><circle cx="513.30" cy="215.25" r="0.61" fill="#ffb0b0"/>
<circle cx="518.61" cy="222.95" r="1.90" fill="#ff2a2a"/><circle cx="518.61" cy="222.95" r="0.61" fill="#ffb0b0"/>
<circle cx="522.59" cy="230.34" r="1.90" fill="#ff2a2a"/><circle cx="522.59" cy="230.34" r="0.61" fill="#ffb0b0"/>
<circle cx="525.50" cy="237.11" r="1.90" fill="#ff2a2a"/><circle cx="525.50" cy="237.11" r="0.61" fill="#ffb0b0"/>
<circle cx="527.58" cy="243.12" r="1.90" fill="#ff2a2a"/><circle cx="527.58" cy="243.12" r="0.61" fill="#ffb0b0"/>
<circle cx="529.06" cy="248.34" r="1.90" fill="#ff2a2a"/><circle cx="529.06" cy="248.34" r="0.61" fill="#ffb0b0"/>
<circle cx="530.09" cy="252.82" r="1.90" fill="#ff2a2a"/><circle cx="530.09" cy="252.82" r="0.61" fill="#ffb0b0"/>
<circle cx="530.81" cy="256.60" r="1.90" fill="#ff2a2a"/><circle cx="530.81" cy="256.60" r="0.61" fill="#ffb0b0"/>
<circle cx="531.31" cy="259.79" r="1.90" fill="#ff2a2a"/><circle cx="531.31" cy="259.79" r="0.61" fill="#ffb0b0"/>
<circle cx="531.65" cy="262.45" r="1.90" fill="#ff2a2a"/><circle cx="531.65" cy="262.45" r="0.61" fill="#ffb0b0"/>
<circle cx="531.89" cy="264.68" r="1.90" fill="#ff2a2a"/><circle cx="531.89" cy="264.68" r="0.61" fill="#ffb0b0"/>
<circle cx="532.05" cy="266.53" r="1.90" fill="#ff2a2a"/><circle cx="532.05" cy="266.53" r="0.61" fill="#ffb0b0"/>
<circle cx="532.16" cy="268.06" r="1.90" fill="#ff2a2a"/><circle cx="532.16" cy="268.06" r="0.61" fill="#ffb0b0"/>
<circle cx="532.24" cy="269.34" r="1.90" fill="#ff2a2a"/><circle cx="532.24" cy="269.34" r="0.61" fill="#ffb0b0"/>
<circle cx="532.29" cy="270.40" r="1.90" fill="#ff2a2a"/><circle cx="532.29" cy="270.40" r="0.61" fill="#ffb0b0"/>
<circle cx="532.33" cy="271.27" r="1.90" fill="#ff2a2a"/><circle cx="532.33" cy="271.27" r="0.61" fill="#ffb0b0"/>
<circle cx="532.35" cy="272.00" r="1.90" fill="#ff2a2a"/><circle cx="532.35" cy="272.00" r="0.61" fill="#ffb0b0"/>
<circle cx="532.37" cy="272.60" r="1.90" fill="#ff2a2a"/><circle cx="532.37" cy="272.60" r="0.61" fill="#ffb0b0"/>
<circle cx="532.38" cy="273.10" r="1.90" fill="#ff2a2a"/><circle cx="532.38" cy="273.10" r="0.61" fill="#ffb0b0"/>
</g>
<text x="446.00" y="177.60" font-size="7.4" text-anchor="start" style="font-family:'Liberation Serif',serif" fill="#222" font-weight="normal" stroke="#222" stroke-width="0.181">P<tspan dy="1.63" font-size="4.59">[0.9 mM]</tspan><tspan dy="-1.63">-MoS</tspan><tspan dy="1.63" font-size="4.59">2</tspan><tspan dy="-1.63">/Ni</tspan><tspan dy="1.63" font-size="4.59">3</tspan><tspan dy="-1.63">S</tspan><tspan dy="1.63" font-size="4.59">2</tspan><tspan dy="-1.63">@NF</tspan></text>
<line x1="445.4" y1="219.7" x2="457.2" y2="219.7" stroke="#ff2a2a" stroke-width="0.8"/>
<circle cx="451.50" cy="219.70" r="1.75" fill="#ff2a2a"/><circle cx="451.50" cy="219.70" r="0.56" fill="#ffb0b0"/>
<text x="459.80" y="222.30" font-size="7.4" text-anchor="start" style="font-family:'Liberation Serif',serif" fill="#222" font-weight="normal" stroke="#222" stroke-width="0.181">initial</text>
<line x1="445.4" y1="229.8" x2="457.2" y2="229.8" stroke="#333333" stroke-width="0.8"/>
<rect x="449.90" y="228.20" width="3.20" height="3.20" fill="#3a3a3a"/>
<text x="459.80" y="232.40" font-size="7.4" text-anchor="start" style="font-family:'Liberation Serif',serif" fill="#222" font-weight="normal" stroke="#222" stroke-width="0.181">After 3000 cycles</text>
<g transform="translate(453.68,251.50) scale(0.914,1.056)" stroke="#7a7a7a" stroke-width="1.02" fill="none"><path d="M-2.5,0 H3.2 l0.7,-1.2 l1.2,2.4 l1.2,-2.4 l1.2,2.4 l0.7,-1.2 H12.5"/><path d="M12.5,-6.2 V6.2 M12.5,-6.2 H33.5 V6.2 H12.5 M33.5,0 H40"/><path d="M21.2,-7.6 V-4.8 M22.2,-7.6 Q24.2,-6.2 22.2,-4.8"/><path d="M19.6,6.2 l0.9,-2.6 l0.9,2.0 l0.9,-2.0 l0.9,2.0 l0.9,-2.0 l0.9,2.6"/></g>
<text x="472.0" y="266.7" font-size="8.6" style="font-family:'Liberation Serif',serif" fill="#7a7a7a" stroke="#7a7a7a" stroke-width="0.210">R<tspan dy="3.0" font-size="8.0">ct</tspan></text>
<rect x="404.70" y="164.50" width="138.30" height="111.00" fill="none" stroke="#222" stroke-width="1.0"/>
<line x1="404.70" y1="275.50" x2="404.70" y2="273.70" stroke="#222" stroke-width="0.8"/><line x1="420.97" y1="275.50" x2="420.97" y2="273.70" stroke="#222" stroke-width="0.8"/><line x1="437.24" y1="275.50" x2="437.24" y2="273.70" stroke="#222" stroke-width="0.8"/><line x1="453.51" y1="275.50" x2="453.51" y2="273.70" stroke="#222" stroke-width="0.8"/><line x1="469.78" y1="275.50" x2="469.78" y2="273.70" stroke="#222" stroke-width="0.8"/><line x1="486.05" y1="275.50" x2="486.05" y2="273.70" stroke="#222" stroke-width="0.8"/><line x1="502.32" y1="275.50" x2="502.32" y2="273.70" stroke="#222" stroke-width="0.8"/><line x1="518.59" y1="275.50" x2="518.59" y2="273.70" stroke="#222" stroke-width="0.8"/><line x1="534.86" y1="275.50" x2="534.86" y2="273.70" stroke="#222" stroke-width="0.8"/>
<line x1="404.70" y1="275.50" x2="406.50" y2="275.50" stroke="#222" stroke-width="0.8"/><line x1="404.70" y1="264.40" x2="406.50" y2="264.40" stroke="#222" stroke-width="0.8"/><line x1="404.70" y1="253.30" x2="406.50" y2="253.30" stroke="#222" stroke-width="0.8"/><line x1="404.70" y1="242.20" x2="406.50" y2="242.20" stroke="#222" stroke-width="0.8"/><line x1="404.70" y1="231.10" x2="406.50" y2="231.10" stroke="#222" stroke-width="0.8"/><line x1="404.70" y1="220.00" x2="406.50" y2="220.00" stroke="#222" stroke-width="0.8"/><line x1="404.70" y1="208.90" x2="406.50" y2="208.90" stroke="#222" stroke-width="0.8"/><line x1="404.70" y1="197.80" x2="406.50" y2="197.80" stroke="#222" stroke-width="0.8"/><line x1="404.70" y1="186.70" x2="406.50" y2="186.70" stroke="#222" stroke-width="0.8"/><line x1="404.70" y1="175.60" x2="406.50" y2="175.60" stroke="#222" stroke-width="0.8"/><line x1="404.70" y1="164.50" x2="406.50" y2="164.50" stroke="#222" stroke-width="0.8"/>
<text x="404.70" y="285.80" font-size="9.0" text-anchor="middle" style="font-family:'Liberation Serif',serif" fill="#111" font-weight="normal" stroke="#111" stroke-width="0.220">1.6</text>
<text x="437.24" y="285.80" font-size="9.0" text-anchor="middle" style="font-family:'Liberation Serif',serif" fill="#111" font-weight="normal" stroke="#111" stroke-width="0.220">1.8</text>
<text x="469.78" y="285.80" font-size="9.0" text-anchor="middle" style="font-family:'Liberation Serif',serif" fill="#111" font-weight="normal" stroke="#111" stroke-width="0.220">2.0</text>
<text x="502.32" y="285.80" font-size="9.0" text-anchor="middle" style="font-family:'Liberation Serif',serif" fill="#111" font-weight="normal" stroke="#111" stroke-width="0.220">2.2</text>
<text x="534.86" y="285.80" font-size="9.0" text-anchor="middle" style="font-family:'Liberation Serif',serif" fill="#111" font-weight="normal" stroke="#111" stroke-width="0.220">2.4</text>
<text x="402.10" y="278.60" font-size="9.0" text-anchor="end" style="font-family:'Liberation Serif',serif" fill="#111" font-weight="normal" stroke="#111" stroke-width="0.220">0.0</text>
<text x="402.10" y="256.40" font-size="9.0" text-anchor="end" style="font-family:'Liberation Serif',serif" fill="#111" font-weight="normal" stroke="#111" stroke-width="0.220">0.1</text>
<text x="402.10" y="234.20" font-size="9.0" text-anchor="end" style="font-family:'Liberation Serif',serif" fill="#111" font-weight="normal" stroke="#111" stroke-width="0.220">0.2</text>
<text x="402.10" y="212.00" font-size="9.0" text-anchor="end" style="font-family:'Liberation Serif',serif" fill="#111" font-weight="normal" stroke="#111" stroke-width="0.220">0.3</text>
<text x="402.10" y="189.80" font-size="9.0" text-anchor="end" style="font-family:'Liberation Serif',serif" fill="#111" font-weight="normal" stroke="#111" stroke-width="0.220">0.4</text>
<text x="402.10" y="167.60" font-size="9.0" text-anchor="end" style="font-family:'Liberation Serif',serif" fill="#111" font-weight="normal" stroke="#111" stroke-width="0.220">0.5</text>
<text x="472.0" y="294.6" font-size="9.2" text-anchor="middle" style="font-family:'Liberation Serif',serif" fill="#111" stroke="#111" stroke-width="0.225"><tspan font-style="italic">Z'</tspan> (ohm)</text>
<text transform="translate(388.4,217.6) rotate(-90)" font-size="9.2" text-anchor="middle" style="font-family:'Liberation Serif',serif" fill="#111" stroke="#111" stroke-width="0.225">-<tspan font-style="italic">Z''</tspan> (ohm)</text>
<g style="font-family:'Liberation Sans',sans-serif" font-weight="bold" fill="#000" stroke="#000" stroke-width="0.2"><text x="373.40" y="163.10" font-size="17.8" stroke="#111" stroke-width="0.435">(</text><text x="378.85" y="163.10" font-size="16.3" stroke="#111" stroke-width="0.398">f</text><text x="385.08" y="163.10" font-size="17.8" stroke="#111" stroke-width="0.435">)</text></g>
</svg></body></html>
